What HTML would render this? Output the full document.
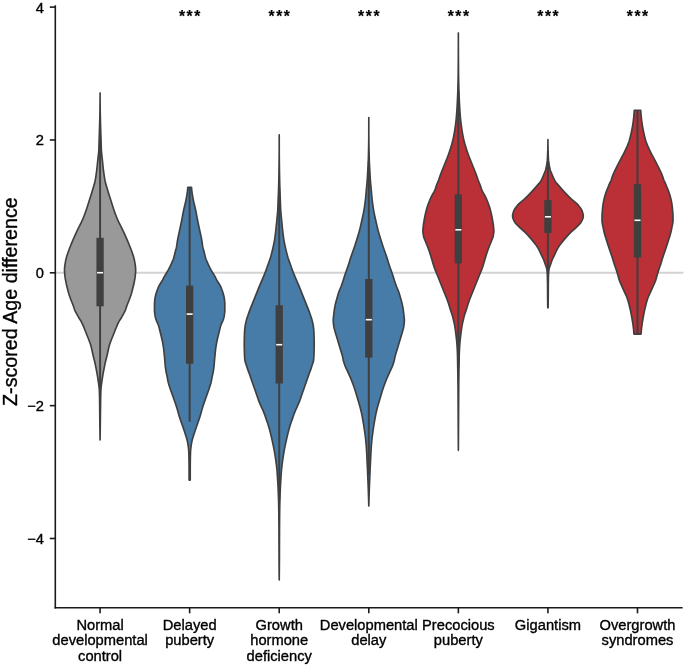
<!DOCTYPE html><html><head><meta charset="utf-8"><style>html,body{margin:0;padding:0;background:#fff;}svg{display:block;}text{font-family:"Liberation Sans",Arial,sans-serif;fill:#000;stroke:#000;stroke-width:0.35px;}</style></head><body>
<svg width="685" height="666" viewBox="0 0 685 666">
<rect width="685" height="666" fill="#fff"/>
<line x1="55.30" y1="272.70" x2="683.40" y2="272.70" stroke="#d3d3d3" stroke-width="2.0"/>
<path d="M100.08,92.95 L100.08,93.95 L100.08,94.95 L100.08,95.95 L100.08,96.95 L100.07,97.95 L100.06,98.95 L100.06,99.95 L100.05,100.95 L100.04,101.95 L100.03,102.95 L100.02,103.95 L100.01,104.95 L100.00,105.95 L99.99,106.95 L99.98,107.95 L99.97,108.95 L99.96,109.95 L99.95,110.95 L99.93,111.95 L99.92,112.95 L99.90,113.95 L99.88,114.95 L99.85,115.95 L99.83,116.95 L99.81,117.95 L99.78,118.95 L99.76,119.95 L99.74,120.95 L99.71,121.95 L99.68,122.95 L99.66,123.95 L99.63,124.95 L99.60,125.95 L99.57,126.95 L99.54,127.95 L99.51,128.95 L99.47,129.95 L99.44,130.95 L99.41,131.95 L99.38,132.95 L99.35,133.95 L99.32,134.95 L99.28,135.95 L99.25,136.95 L99.22,137.95 L99.18,138.95 L99.15,139.95 L99.11,140.95 L99.08,141.95 L99.05,142.95 L99.01,143.95 L98.98,144.95 L98.95,145.95 L98.92,146.95 L98.89,147.95 L98.86,148.95 L98.81,149.95 L98.76,150.95 L98.68,151.95 L98.59,152.95 L98.49,153.95 L98.38,154.95 L98.27,155.95 L98.15,156.95 L98.04,157.95 L97.92,158.95 L97.82,159.95 L97.71,160.95 L97.61,161.95 L97.52,162.95 L97.42,163.95 L97.32,164.95 L97.21,165.95 L97.11,166.95 L97.00,167.95 L96.89,168.95 L96.77,169.95 L96.64,170.95 L96.51,171.95 L96.38,172.95 L96.25,173.95 L96.10,174.95 L95.95,175.95 L95.80,176.95 L95.63,177.95 L95.46,178.95 L95.27,179.95 L95.07,180.95 L94.84,181.95 L94.59,182.95 L94.32,183.95 L94.05,184.95 L93.76,185.95 L93.46,186.95 L93.17,187.95 L92.87,188.95 L92.57,189.95 L92.28,190.95 L91.98,191.95 L91.67,192.95 L91.35,193.95 L91.03,194.95 L90.71,195.95 L90.39,196.95 L90.07,197.95 L89.75,198.95 L89.43,199.95 L89.11,200.95 L88.80,201.95 L88.49,202.95 L88.18,203.95 L87.86,204.95 L87.55,205.95 L87.23,206.95 L86.90,207.95 L86.57,208.95 L86.23,209.95 L85.88,210.95 L85.52,211.95 L85.17,212.95 L84.80,213.95 L84.43,214.95 L84.05,215.95 L83.66,216.95 L83.26,217.95 L82.85,218.95 L82.43,219.95 L81.99,220.95 L81.53,221.95 L81.04,222.95 L80.54,223.95 L80.04,224.95 L79.53,225.95 L79.01,226.95 L78.51,227.95 L78.01,228.95 L77.53,229.95 L77.07,230.95 L76.60,231.95 L76.14,232.95 L75.69,233.95 L75.23,234.95 L74.78,235.95 L74.34,236.95 L73.90,237.95 L73.46,238.95 L73.03,239.95 L72.60,240.95 L72.17,241.95 L71.74,242.95 L71.31,243.95 L70.89,244.95 L70.47,245.95 L70.06,246.95 L69.67,247.95 L69.29,248.95 L68.93,249.95 L68.57,250.95 L68.21,251.95 L67.85,252.95 L67.50,253.95 L67.16,254.95 L66.84,255.95 L66.54,256.95 L66.27,257.95 L66.02,258.95 L65.82,259.95 L65.63,260.95 L65.45,261.95 L65.27,262.95 L65.10,263.95 L64.94,264.95 L64.80,265.95 L64.68,266.95 L64.59,267.95 L64.53,268.95 L64.51,269.95 L64.52,270.95 L64.57,271.95 L64.63,272.95 L64.72,273.95 L64.81,274.95 L64.91,275.95 L65.02,276.95 L65.16,277.95 L65.33,278.95 L65.51,279.95 L65.70,280.95 L65.90,281.95 L66.10,282.95 L66.32,283.95 L66.56,284.95 L66.80,285.95 L67.05,286.95 L67.30,287.95 L67.55,288.95 L67.80,289.95 L68.06,290.95 L68.32,291.95 L68.60,292.95 L68.89,293.95 L69.21,294.95 L69.54,295.95 L69.89,296.95 L70.25,297.95 L70.62,298.95 L70.99,299.95 L71.38,300.95 L71.79,301.95 L72.20,302.95 L72.62,303.95 L73.02,304.95 L73.39,305.95 L73.72,306.95 L74.03,307.95 L74.34,308.95 L74.69,309.95 L75.11,310.95 L75.59,311.95 L76.11,312.95 L76.66,313.95 L77.22,314.95 L77.78,315.95 L78.36,316.95 L78.98,317.95 L79.61,318.95 L80.24,319.95 L80.83,320.95 L81.38,321.95 L81.88,322.95 L82.36,323.95 L82.81,324.95 L83.24,325.95 L83.67,326.95 L84.09,327.95 L84.51,328.95 L84.91,329.95 L85.31,330.95 L85.70,331.95 L86.09,332.95 L86.49,333.95 L86.89,334.95 L87.30,335.95 L87.71,336.95 L88.11,337.95 L88.51,338.95 L88.89,339.95 L89.27,340.95 L89.65,341.95 L90.02,342.95 L90.37,343.95 L90.70,344.95 L91.00,345.95 L91.25,346.95 L91.47,347.95 L91.68,348.95 L91.90,349.95 L92.12,350.95 L92.34,351.95 L92.57,352.95 L92.79,353.95 L93.02,354.95 L93.25,355.95 L93.49,356.95 L93.75,357.95 L94.01,358.95 L94.27,359.95 L94.52,360.95 L94.75,361.95 L94.97,362.95 L95.17,363.95 L95.37,364.95 L95.56,365.95 L95.76,366.95 L95.95,367.95 L96.15,368.95 L96.35,369.95 L96.54,370.95 L96.74,371.95 L96.92,372.95 L97.10,373.95 L97.27,374.95 L97.44,375.95 L97.60,376.95 L97.75,377.95 L97.90,378.95 L98.05,379.95 L98.20,380.95 L98.35,381.95 L98.50,382.95 L98.65,383.95 L98.78,384.95 L98.90,385.95 L99.02,386.95 L99.14,387.95 L99.24,388.95 L99.31,389.95 L99.36,390.95 L99.40,391.95 L99.44,392.95 L99.47,393.95 L99.50,394.95 L99.53,395.95 L99.55,396.95 L99.57,397.95 L99.59,398.95 L99.61,399.95 L99.62,400.95 L99.64,401.95 L99.65,402.95 L99.66,403.95 L99.67,404.95 L99.68,405.95 L99.69,406.95 L99.70,407.95 L99.71,408.95 L99.72,409.95 L99.73,410.95 L99.74,411.95 L99.74,412.95 L99.75,413.95 L99.76,414.95 L99.77,415.95 L99.78,416.95 L99.79,417.95 L99.80,418.95 L99.81,419.95 L99.82,420.95 L99.83,421.95 L99.85,422.95 L99.86,423.95 L99.87,424.95 L99.88,425.95 L99.90,426.95 L99.91,427.95 L99.92,428.95 L99.94,429.95 L99.95,430.95 L99.97,431.95 L99.98,432.95 L99.99,433.95 L100.01,434.95 L100.02,435.95 L100.04,436.95 L100.05,437.95 L100.07,438.95 L100.08,439.95 L100.08,439.95 L100.10,438.95 L100.12,437.95 L100.13,436.95 L100.15,435.95 L100.16,434.95 L100.18,433.95 L100.19,432.95 L100.20,431.95 L100.22,430.95 L100.23,429.95 L100.25,428.95 L100.26,427.95 L100.27,426.95 L100.29,425.95 L100.30,424.95 L100.31,423.95 L100.32,422.95 L100.34,421.95 L100.35,420.95 L100.36,419.95 L100.37,418.95 L100.38,417.95 L100.39,416.95 L100.40,415.95 L100.41,414.95 L100.42,413.95 L100.43,412.95 L100.43,411.95 L100.44,410.95 L100.45,409.95 L100.46,408.95 L100.47,407.95 L100.48,406.95 L100.49,405.95 L100.50,404.95 L100.51,403.95 L100.52,402.95 L100.53,401.95 L100.55,400.95 L100.56,399.95 L100.58,398.95 L100.60,397.95 L100.62,396.95 L100.64,395.95 L100.67,394.95 L100.70,393.95 L100.73,392.95 L100.77,391.95 L100.81,390.95 L100.86,389.95 L100.93,388.95 L101.03,387.95 L101.15,386.95 L101.27,385.95 L101.39,384.95 L101.52,383.95 L101.67,382.95 L101.82,381.95 L101.97,380.95 L102.12,379.95 L102.27,378.95 L102.42,377.95 L102.57,376.95 L102.73,375.95 L102.90,374.95 L103.07,373.95 L103.25,372.95 L103.43,371.95 L103.63,370.95 L103.82,369.95 L104.02,368.95 L104.22,367.95 L104.41,366.95 L104.61,365.95 L104.80,364.95 L105.00,363.95 L105.20,362.95 L105.42,361.95 L105.65,360.95 L105.90,359.95 L106.16,358.95 L106.42,357.95 L106.68,356.95 L106.92,355.95 L107.15,354.95 L107.38,353.95 L107.60,352.95 L107.83,351.95 L108.05,350.95 L108.27,349.95 L108.49,348.95 L108.70,347.95 L108.92,346.95 L109.17,345.95 L109.47,344.95 L109.80,343.95 L110.15,342.95 L110.52,341.95 L110.90,340.95 L111.28,339.95 L111.66,338.95 L112.06,337.95 L112.46,336.95 L112.87,335.95 L113.28,334.95 L113.68,333.95 L114.08,332.95 L114.47,331.95 L114.86,330.95 L115.26,329.95 L115.66,328.95 L116.08,327.95 L116.50,326.95 L116.93,325.95 L117.36,324.95 L117.81,323.95 L118.29,322.95 L118.79,321.95 L119.34,320.95 L119.93,319.95 L120.56,318.95 L121.19,317.95 L121.81,316.95 L122.39,315.95 L122.95,314.95 L123.51,313.95 L124.06,312.95 L124.58,311.95 L125.06,310.95 L125.48,309.95 L125.83,308.95 L126.14,307.95 L126.45,306.95 L126.78,305.95 L127.15,304.95 L127.55,303.95 L127.97,302.95 L128.38,301.95 L128.79,300.95 L129.18,299.95 L129.55,298.95 L129.92,297.95 L130.28,296.95 L130.63,295.95 L130.96,294.95 L131.28,293.95 L131.57,292.95 L131.85,291.95 L132.11,290.95 L132.37,289.95 L132.62,288.95 L132.87,287.95 L133.12,286.95 L133.37,285.95 L133.61,284.95 L133.85,283.95 L134.07,282.95 L134.27,281.95 L134.47,280.95 L134.66,279.95 L134.84,278.95 L135.01,277.95 L135.15,276.95 L135.26,275.95 L135.36,274.95 L135.45,273.95 L135.54,272.95 L135.60,271.95 L135.65,270.95 L135.66,269.95 L135.64,268.95 L135.58,267.95 L135.49,266.95 L135.37,265.95 L135.23,264.95 L135.07,263.95 L134.90,262.95 L134.72,261.95 L134.54,260.95 L134.35,259.95 L134.15,258.95 L133.90,257.95 L133.63,256.95 L133.33,255.95 L133.01,254.95 L132.67,253.95 L132.32,252.95 L131.96,251.95 L131.60,250.95 L131.24,249.95 L130.88,248.95 L130.50,247.95 L130.11,246.95 L129.70,245.95 L129.28,244.95 L128.86,243.95 L128.43,242.95 L128.00,241.95 L127.57,240.95 L127.14,239.95 L126.71,238.95 L126.27,237.95 L125.83,236.95 L125.39,235.95 L124.94,234.95 L124.48,233.95 L124.03,232.95 L123.57,231.95 L123.10,230.95 L122.64,229.95 L122.16,228.95 L121.66,227.95 L121.16,226.95 L120.64,225.95 L120.13,224.95 L119.63,223.95 L119.13,222.95 L118.64,221.95 L118.18,220.95 L117.74,219.95 L117.32,218.95 L116.91,217.95 L116.51,216.95 L116.12,215.95 L115.74,214.95 L115.37,213.95 L115.00,212.95 L114.65,211.95 L114.29,210.95 L113.94,209.95 L113.60,208.95 L113.27,207.95 L112.94,206.95 L112.62,205.95 L112.31,204.95 L111.99,203.95 L111.68,202.95 L111.37,201.95 L111.06,200.95 L110.74,199.95 L110.42,198.95 L110.10,197.95 L109.78,196.95 L109.46,195.95 L109.14,194.95 L108.82,193.95 L108.50,192.95 L108.19,191.95 L107.89,190.95 L107.60,189.95 L107.30,188.95 L107.00,187.95 L106.71,186.95 L106.41,185.95 L106.12,184.95 L105.85,183.95 L105.58,182.95 L105.33,181.95 L105.10,180.95 L104.90,179.95 L104.71,178.95 L104.54,177.95 L104.37,176.95 L104.22,175.95 L104.07,174.95 L103.92,173.95 L103.79,172.95 L103.66,171.95 L103.53,170.95 L103.40,169.95 L103.28,168.95 L103.17,167.95 L103.06,166.95 L102.96,165.95 L102.85,164.95 L102.75,163.95 L102.65,162.95 L102.56,161.95 L102.46,160.95 L102.35,159.95 L102.25,158.95 L102.13,157.95 L102.02,156.95 L101.90,155.95 L101.79,154.95 L101.68,153.95 L101.58,152.95 L101.49,151.95 L101.41,150.95 L101.36,149.95 L101.31,148.95 L101.28,147.95 L101.25,146.95 L101.22,145.95 L101.19,144.95 L101.16,143.95 L101.12,142.95 L101.09,141.95 L101.06,140.95 L101.02,139.95 L100.99,138.95 L100.95,137.95 L100.92,136.95 L100.89,135.95 L100.85,134.95 L100.82,133.95 L100.79,132.95 L100.76,131.95 L100.73,130.95 L100.70,129.95 L100.66,128.95 L100.63,127.95 L100.60,126.95 L100.57,125.95 L100.54,124.95 L100.51,123.95 L100.49,122.95 L100.46,121.95 L100.43,120.95 L100.41,119.95 L100.39,118.95 L100.36,117.95 L100.34,116.95 L100.32,115.95 L100.29,114.95 L100.27,113.95 L100.25,112.95 L100.24,111.95 L100.22,110.95 L100.21,109.95 L100.20,108.95 L100.19,107.95 L100.18,106.95 L100.17,105.95 L100.16,104.95 L100.15,103.95 L100.14,102.95 L100.13,101.95 L100.12,100.95 L100.11,99.95 L100.11,98.95 L100.10,97.95 L100.09,96.95 L100.09,95.95 L100.09,94.95 L100.09,93.95 L100.08,92.95 Z" fill="#999999" stroke="#3f3f3f" stroke-width="1.65" stroke-linejoin="round"/>
<line x1="100.08" y1="135.40" x2="100.08" y2="409.00" stroke="#3f3f3f" stroke-width="2.0"/>
<line x1="100.08" y1="237.80" x2="100.08" y2="306.30" stroke="#3f3f3f" stroke-width="7.3"/>
<line x1="97.08" y1="272.70" x2="103.08" y2="272.70" stroke="#fff" stroke-width="1.6"/>
<path d="M187.78,187.20 L187.72,188.20 L187.65,189.20 L187.56,190.20 L187.45,191.20 L187.33,192.20 L187.19,193.20 L187.03,194.20 L186.87,195.20 L186.69,196.20 L186.51,197.20 L186.32,198.20 L186.13,199.20 L185.94,200.20 L185.74,201.20 L185.52,202.20 L185.29,203.20 L185.05,204.20 L184.81,205.20 L184.56,206.20 L184.32,207.20 L184.08,208.20 L183.85,209.20 L183.64,210.20 L183.44,211.20 L183.24,212.20 L183.05,213.20 L182.87,214.20 L182.68,215.20 L182.50,216.20 L182.32,217.20 L182.13,218.20 L181.94,219.20 L181.74,220.20 L181.54,221.20 L181.33,222.20 L181.12,223.20 L180.91,224.20 L180.70,225.20 L180.49,226.20 L180.27,227.20 L180.06,228.20 L179.85,229.20 L179.64,230.20 L179.42,231.20 L179.20,232.20 L178.98,233.20 L178.76,234.20 L178.54,235.20 L178.32,236.20 L178.11,237.20 L177.91,238.20 L177.72,239.20 L177.55,240.20 L177.39,241.20 L177.25,242.20 L177.11,243.20 L176.97,244.20 L176.82,245.20 L176.64,246.20 L176.43,247.20 L176.19,248.20 L175.92,249.20 L175.65,250.20 L175.39,251.20 L175.13,252.20 L174.89,253.20 L174.66,254.20 L174.43,255.20 L174.18,256.20 L173.91,257.20 L173.62,258.20 L173.28,259.20 L172.90,260.20 L172.50,261.20 L172.07,262.20 L171.64,263.20 L171.19,264.20 L170.73,265.20 L170.25,266.20 L169.75,267.20 L169.24,268.20 L168.71,269.20 L168.17,270.20 L167.59,271.20 L166.99,272.20 L166.36,273.20 L165.74,274.20 L165.14,275.20 L164.57,276.20 L164.04,277.20 L163.53,278.20 L163.01,279.20 L162.47,280.20 L161.87,281.20 L161.24,282.20 L160.59,283.20 L159.97,284.20 L159.39,285.20 L158.88,286.20 L158.42,287.20 L157.98,288.20 L157.57,289.20 L157.19,290.20 L156.84,291.20 L156.52,292.20 L156.22,293.20 L155.92,294.20 L155.65,295.20 L155.41,296.20 L155.21,297.20 L155.05,298.20 L154.91,299.20 L154.77,300.20 L154.65,301.20 L154.56,302.20 L154.50,303.20 L154.48,304.20 L154.48,305.20 L154.48,306.20 L154.48,307.20 L154.48,308.20 L154.48,309.20 L154.48,310.20 L154.51,311.20 L154.59,312.20 L154.69,313.20 L154.82,314.20 L154.96,315.20 L155.11,316.20 L155.32,317.20 L155.60,318.20 L155.92,319.20 L156.25,320.20 L156.63,321.20 L157.07,322.20 L157.53,323.20 L157.99,324.20 L158.40,325.20 L158.74,326.20 L159.03,327.20 L159.29,328.20 L159.52,329.20 L159.75,330.20 L159.99,331.20 L160.23,332.20 L160.49,333.20 L160.74,334.20 L161.00,335.20 L161.25,336.20 L161.50,337.20 L161.72,338.20 L161.94,339.20 L162.15,340.20 L162.36,341.20 L162.55,342.20 L162.74,343.20 L162.91,344.20 L163.08,345.20 L163.24,346.20 L163.40,347.20 L163.54,348.20 L163.68,349.20 L163.80,350.20 L163.92,351.20 L164.02,352.20 L164.11,353.20 L164.21,354.20 L164.30,355.20 L164.40,356.20 L164.50,357.20 L164.61,358.20 L164.71,359.20 L164.80,360.20 L164.88,361.20 L164.95,362.20 L165.03,363.20 L165.11,364.20 L165.20,365.20 L165.30,366.20 L165.41,367.20 L165.53,368.20 L165.67,369.20 L165.81,370.20 L165.98,371.20 L166.17,372.20 L166.38,373.20 L166.60,374.20 L166.82,375.20 L167.02,376.20 L167.21,377.20 L167.40,378.20 L167.59,379.20 L167.78,380.20 L168.00,381.20 L168.23,382.20 L168.49,383.20 L168.78,384.20 L169.08,385.20 L169.40,386.20 L169.72,387.20 L170.04,388.20 L170.38,389.20 L170.73,390.20 L171.08,391.20 L171.44,392.20 L171.80,393.20 L172.15,394.20 L172.50,395.20 L172.85,396.20 L173.20,397.20 L173.55,398.20 L173.90,399.20 L174.25,400.20 L174.61,401.20 L174.96,402.20 L175.32,403.20 L175.68,404.20 L176.02,405.20 L176.34,406.20 L176.65,407.20 L176.95,408.20 L177.25,409.20 L177.54,410.20 L177.82,411.20 L178.10,412.20 L178.37,413.20 L178.65,414.20 L178.94,415.20 L179.24,416.20 L179.56,417.20 L179.89,418.20 L180.22,419.20 L180.56,420.20 L180.91,421.20 L181.25,422.20 L181.60,423.20 L181.95,424.20 L182.30,425.20 L182.65,426.20 L183.00,427.20 L183.35,428.20 L183.69,429.20 L184.03,430.20 L184.37,431.20 L184.70,432.20 L185.02,433.20 L185.34,434.20 L185.67,435.20 L185.99,436.20 L186.31,437.20 L186.61,438.20 L186.88,439.20 L187.13,440.20 L187.34,441.20 L187.55,442.20 L187.74,443.20 L187.91,444.20 L188.07,445.20 L188.21,446.20 L188.33,447.20 L188.46,448.20 L188.57,449.20 L188.66,450.20 L188.74,451.20 L188.79,452.20 L188.83,453.20 L188.86,454.20 L188.89,455.20 L188.91,456.20 L188.93,457.20 L188.95,458.20 L188.97,459.20 L188.98,460.20 L189.00,461.20 L189.01,462.20 L189.03,463.20 L189.04,464.20 L189.05,465.20 L189.06,466.20 L189.07,467.20 L189.08,468.20 L189.08,469.20 L189.08,470.20 L189.08,471.20 L189.08,472.20 L189.08,473.20 L189.08,474.20 L189.08,475.20 L189.08,476.20 L189.08,477.20 L189.08,478.20 L189.08,479.20 L189.08,480.10 L190.23,480.10 L190.23,479.20 L190.23,478.20 L190.23,477.20 L190.23,476.20 L190.23,475.20 L190.23,474.20 L190.23,473.20 L190.23,472.20 L190.23,471.20 L190.23,470.20 L190.23,469.20 L190.23,468.20 L190.24,467.20 L190.25,466.20 L190.26,465.20 L190.27,464.20 L190.28,463.20 L190.30,462.20 L190.31,461.20 L190.33,460.20 L190.34,459.20 L190.36,458.20 L190.38,457.20 L190.40,456.20 L190.42,455.20 L190.45,454.20 L190.48,453.20 L190.52,452.20 L190.57,451.20 L190.65,450.20 L190.74,449.20 L190.85,448.20 L190.98,447.20 L191.10,446.20 L191.24,445.20 L191.40,444.20 L191.57,443.20 L191.76,442.20 L191.97,441.20 L192.18,440.20 L192.43,439.20 L192.70,438.20 L193.00,437.20 L193.32,436.20 L193.64,435.20 L193.97,434.20 L194.29,433.20 L194.61,432.20 L194.94,431.20 L195.28,430.20 L195.62,429.20 L195.96,428.20 L196.31,427.20 L196.66,426.20 L197.01,425.20 L197.36,424.20 L197.71,423.20 L198.06,422.20 L198.40,421.20 L198.75,420.20 L199.09,419.20 L199.42,418.20 L199.75,417.20 L200.07,416.20 L200.37,415.20 L200.66,414.20 L200.94,413.20 L201.21,412.20 L201.49,411.20 L201.77,410.20 L202.06,409.20 L202.36,408.20 L202.66,407.20 L202.97,406.20 L203.29,405.20 L203.63,404.20 L203.99,403.20 L204.35,402.20 L204.70,401.20 L205.06,400.20 L205.41,399.20 L205.76,398.20 L206.11,397.20 L206.46,396.20 L206.81,395.20 L207.16,394.20 L207.51,393.20 L207.87,392.20 L208.23,391.20 L208.58,390.20 L208.93,389.20 L209.27,388.20 L209.59,387.20 L209.91,386.20 L210.23,385.20 L210.53,384.20 L210.82,383.20 L211.08,382.20 L211.31,381.20 L211.53,380.20 L211.72,379.20 L211.91,378.20 L212.10,377.20 L212.29,376.20 L212.49,375.20 L212.71,374.20 L212.93,373.20 L213.14,372.20 L213.33,371.20 L213.50,370.20 L213.64,369.20 L213.78,368.20 L213.90,367.20 L214.01,366.20 L214.11,365.20 L214.20,364.20 L214.28,363.20 L214.36,362.20 L214.43,361.20 L214.51,360.20 L214.60,359.20 L214.70,358.20 L214.81,357.20 L214.91,356.20 L215.01,355.20 L215.10,354.20 L215.20,353.20 L215.29,352.20 L215.39,351.20 L215.51,350.20 L215.63,349.20 L215.77,348.20 L215.91,347.20 L216.07,346.20 L216.23,345.20 L216.40,344.20 L216.57,343.20 L216.76,342.20 L216.95,341.20 L217.16,340.20 L217.37,339.20 L217.59,338.20 L217.81,337.20 L218.06,336.20 L218.31,335.20 L218.57,334.20 L218.82,333.20 L219.08,332.20 L219.32,331.20 L219.56,330.20 L219.79,329.20 L220.02,328.20 L220.28,327.20 L220.57,326.20 L220.91,325.20 L221.32,324.20 L221.78,323.20 L222.24,322.20 L222.68,321.20 L223.06,320.20 L223.39,319.20 L223.71,318.20 L223.99,317.20 L224.20,316.20 L224.35,315.20 L224.49,314.20 L224.62,313.20 L224.72,312.20 L224.80,311.20 L224.83,310.20 L224.83,309.20 L224.83,308.20 L224.83,307.20 L224.83,306.20 L224.83,305.20 L224.83,304.20 L224.81,303.20 L224.75,302.20 L224.66,301.20 L224.54,300.20 L224.40,299.20 L224.26,298.20 L224.10,297.20 L223.90,296.20 L223.66,295.20 L223.39,294.20 L223.09,293.20 L222.79,292.20 L222.47,291.20 L222.12,290.20 L221.74,289.20 L221.33,288.20 L220.89,287.20 L220.43,286.20 L219.92,285.20 L219.34,284.20 L218.72,283.20 L218.07,282.20 L217.44,281.20 L216.84,280.20 L216.30,279.20 L215.78,278.20 L215.27,277.20 L214.74,276.20 L214.17,275.20 L213.57,274.20 L212.95,273.20 L212.32,272.20 L211.72,271.20 L211.14,270.20 L210.60,269.20 L210.07,268.20 L209.56,267.20 L209.06,266.20 L208.58,265.20 L208.12,264.20 L207.67,263.20 L207.24,262.20 L206.81,261.20 L206.41,260.20 L206.03,259.20 L205.69,258.20 L205.40,257.20 L205.13,256.20 L204.88,255.20 L204.65,254.20 L204.42,253.20 L204.18,252.20 L203.92,251.20 L203.66,250.20 L203.39,249.20 L203.12,248.20 L202.88,247.20 L202.67,246.20 L202.49,245.20 L202.34,244.20 L202.20,243.20 L202.06,242.20 L201.92,241.20 L201.76,240.20 L201.59,239.20 L201.40,238.20 L201.20,237.20 L200.99,236.20 L200.77,235.20 L200.55,234.20 L200.33,233.20 L200.11,232.20 L199.89,231.20 L199.67,230.20 L199.46,229.20 L199.25,228.20 L199.04,227.20 L198.82,226.20 L198.61,225.20 L198.40,224.20 L198.19,223.20 L197.98,222.20 L197.77,221.20 L197.57,220.20 L197.37,219.20 L197.18,218.20 L196.99,217.20 L196.81,216.20 L196.63,215.20 L196.44,214.20 L196.26,213.20 L196.07,212.20 L195.87,211.20 L195.67,210.20 L195.46,209.20 L195.23,208.20 L194.99,207.20 L194.75,206.20 L194.50,205.20 L194.26,204.20 L194.02,203.20 L193.79,202.20 L193.57,201.20 L193.37,200.20 L193.18,199.20 L192.99,198.20 L192.80,197.20 L192.62,196.20 L192.44,195.20 L192.28,194.20 L192.12,193.20 L191.98,192.20 L191.86,191.20 L191.75,190.20 L191.66,189.20 L191.59,188.20 L191.53,187.20 Z" fill="#477ca8" stroke="#3f3f3f" stroke-width="1.65" stroke-linejoin="round"/>
<line x1="189.65" y1="187.20" x2="189.65" y2="421.70" stroke="#3f3f3f" stroke-width="2.0"/>
<line x1="189.65" y1="285.60" x2="189.65" y2="363.80" stroke="#3f3f3f" stroke-width="7.3"/>
<line x1="186.65" y1="314.10" x2="192.65" y2="314.10" stroke="#fff" stroke-width="1.6"/>
<path d="M279.22,134.85 L279.22,135.85 L279.22,136.85 L279.22,137.85 L279.22,138.85 L279.22,139.85 L279.22,140.85 L279.22,141.85 L279.22,142.85 L279.21,143.85 L279.21,144.85 L279.21,145.85 L279.21,146.85 L279.21,147.85 L279.20,148.85 L279.20,149.85 L279.20,150.85 L279.19,151.85 L279.19,152.85 L279.18,153.85 L279.18,154.85 L279.17,155.85 L279.16,156.85 L279.15,157.85 L279.14,158.85 L279.13,159.85 L279.12,160.85 L279.11,161.85 L279.09,162.85 L279.08,163.85 L279.07,164.85 L279.05,165.85 L279.04,166.85 L279.03,167.85 L279.01,168.85 L279.00,169.85 L278.98,170.85 L278.97,171.85 L278.95,172.85 L278.94,173.85 L278.92,174.85 L278.90,175.85 L278.88,176.85 L278.86,177.85 L278.84,178.85 L278.82,179.85 L278.80,180.85 L278.77,181.85 L278.75,182.85 L278.72,183.85 L278.70,184.85 L278.67,185.85 L278.64,186.85 L278.61,187.85 L278.58,188.85 L278.55,189.85 L278.52,190.85 L278.49,191.85 L278.45,192.85 L278.41,193.85 L278.37,194.85 L278.33,195.85 L278.28,196.85 L278.24,197.85 L278.20,198.85 L278.16,199.85 L278.12,200.85 L278.08,201.85 L278.04,202.85 L278.01,203.85 L277.97,204.85 L277.94,205.85 L277.90,206.85 L277.86,207.85 L277.81,208.85 L277.76,209.85 L277.70,210.85 L277.63,211.85 L277.55,212.85 L277.46,213.85 L277.36,214.85 L277.27,215.85 L277.16,216.85 L277.06,217.85 L276.96,218.85 L276.86,219.85 L276.77,220.85 L276.68,221.85 L276.58,222.85 L276.48,223.85 L276.39,224.85 L276.29,225.85 L276.19,226.85 L276.08,227.85 L275.98,228.85 L275.87,229.85 L275.75,230.85 L275.64,231.85 L275.52,232.85 L275.40,233.85 L275.28,234.85 L275.15,235.85 L275.02,236.85 L274.88,237.85 L274.73,238.85 L274.57,239.85 L274.41,240.85 L274.22,241.85 L274.02,242.85 L273.81,243.85 L273.60,244.85 L273.38,245.85 L273.16,246.85 L272.94,247.85 L272.71,248.85 L272.47,249.85 L272.23,250.85 L271.99,251.85 L271.74,252.85 L271.49,253.85 L271.23,254.85 L270.96,255.85 L270.69,256.85 L270.40,257.85 L270.08,258.85 L269.74,259.85 L269.39,260.85 L269.03,261.85 L268.66,262.85 L268.30,263.85 L267.95,264.85 L267.61,265.85 L267.27,266.85 L266.92,267.85 L266.57,268.85 L266.21,269.85 L265.83,270.85 L265.44,271.85 L265.04,272.85 L264.63,273.85 L264.22,274.85 L263.81,275.85 L263.40,276.85 L262.97,277.85 L262.54,278.85 L262.11,279.85 L261.68,280.85 L261.25,281.85 L260.81,282.85 L260.37,283.85 L259.94,284.85 L259.51,285.85 L259.10,286.85 L258.70,287.85 L258.30,288.85 L257.90,289.85 L257.51,290.85 L257.11,291.85 L256.71,292.85 L256.31,293.85 L255.91,294.85 L255.51,295.85 L255.11,296.85 L254.71,297.85 L254.31,298.85 L253.91,299.85 L253.51,300.85 L253.11,301.85 L252.71,302.85 L252.31,303.85 L251.91,304.85 L251.50,305.85 L251.09,306.85 L250.69,307.85 L250.29,308.85 L249.91,309.85 L249.54,310.85 L249.18,311.85 L248.82,312.85 L248.48,313.85 L248.14,314.85 L247.80,315.85 L247.46,316.85 L247.11,317.85 L246.79,318.85 L246.49,319.85 L246.23,320.85 L245.98,321.85 L245.74,322.85 L245.52,323.85 L245.33,324.85 L245.17,325.85 L245.04,326.85 L244.91,327.85 L244.80,328.85 L244.70,329.85 L244.62,330.85 L244.56,331.85 L244.51,332.85 L244.47,333.85 L244.43,334.85 L244.40,335.85 L244.38,336.85 L244.35,337.85 L244.33,338.85 L244.31,339.85 L244.29,340.85 L244.27,341.85 L244.26,342.85 L244.25,343.85 L244.25,344.85 L244.26,345.85 L244.28,346.85 L244.30,347.85 L244.32,348.85 L244.35,349.85 L244.37,350.85 L244.40,351.85 L244.43,352.85 L244.46,353.85 L244.50,354.85 L244.54,355.85 L244.59,356.85 L244.66,357.85 L244.73,358.85 L244.83,359.85 L244.98,360.85 L245.21,361.85 L245.50,362.85 L245.83,363.85 L246.17,364.85 L246.50,365.85 L246.82,366.85 L247.16,367.85 L247.52,368.85 L247.88,369.85 L248.24,370.85 L248.60,371.85 L248.95,372.85 L249.30,373.85 L249.65,374.85 L250.00,375.85 L250.35,376.85 L250.70,377.85 L251.05,378.85 L251.40,379.85 L251.75,380.85 L252.10,381.85 L252.45,382.85 L252.80,383.85 L253.15,384.85 L253.50,385.85 L253.85,386.85 L254.20,387.85 L254.55,388.85 L254.90,389.85 L255.25,390.85 L255.60,391.85 L255.95,392.85 L256.30,393.85 L256.65,394.85 L257.00,395.85 L257.34,396.85 L257.68,397.85 L258.03,398.85 L258.39,399.85 L258.78,400.85 L259.18,401.85 L259.60,402.85 L260.02,403.85 L260.45,404.85 L260.89,405.85 L261.33,406.85 L261.79,407.85 L262.26,408.85 L262.72,409.85 L263.17,410.85 L263.59,411.85 L263.97,412.85 L264.34,413.85 L264.68,414.85 L265.02,415.85 L265.36,416.85 L265.70,417.85 L266.05,418.85 L266.41,419.85 L266.77,420.85 L267.12,421.85 L267.47,422.85 L267.80,423.85 L268.12,424.85 L268.44,425.85 L268.74,426.85 L269.04,427.85 L269.33,428.85 L269.61,429.85 L269.88,430.85 L270.14,431.85 L270.39,432.85 L270.64,433.85 L270.88,434.85 L271.11,435.85 L271.35,436.85 L271.58,437.85 L271.80,438.85 L272.02,439.85 L272.24,440.85 L272.46,441.85 L272.68,442.85 L272.90,443.85 L273.11,444.85 L273.33,445.85 L273.54,446.85 L273.74,447.85 L273.94,448.85 L274.12,449.85 L274.30,450.85 L274.48,451.85 L274.65,452.85 L274.82,453.85 L274.98,454.85 L275.14,455.85 L275.29,456.85 L275.44,457.85 L275.59,458.85 L275.73,459.85 L275.87,460.85 L276.00,461.85 L276.14,462.85 L276.27,463.85 L276.39,464.85 L276.51,465.85 L276.63,466.85 L276.74,467.85 L276.84,468.85 L276.94,469.85 L277.02,470.85 L277.10,471.85 L277.18,472.85 L277.25,473.85 L277.32,474.85 L277.39,475.85 L277.45,476.85 L277.52,477.85 L277.58,478.85 L277.64,479.85 L277.70,480.85 L277.76,481.85 L277.83,482.85 L277.89,483.85 L277.94,484.85 L278.00,485.85 L278.05,486.85 L278.09,487.85 L278.14,488.85 L278.18,489.85 L278.22,490.85 L278.26,491.85 L278.30,492.85 L278.34,493.85 L278.38,494.85 L278.42,495.85 L278.46,496.85 L278.49,497.85 L278.52,498.85 L278.55,499.85 L278.58,500.85 L278.61,501.85 L278.64,502.85 L278.66,503.85 L278.68,504.85 L278.70,505.85 L278.71,506.85 L278.73,507.85 L278.74,508.85 L278.76,509.85 L278.77,510.85 L278.79,511.85 L278.80,512.85 L278.81,513.85 L278.82,514.85 L278.84,515.85 L278.85,516.85 L278.86,517.85 L278.87,518.85 L278.88,519.85 L278.89,520.85 L278.89,521.85 L278.90,522.85 L278.91,523.85 L278.92,524.85 L278.93,525.85 L278.93,526.85 L278.94,527.85 L278.94,528.85 L278.95,529.85 L278.95,530.85 L278.96,531.85 L278.96,532.85 L278.97,533.85 L278.97,534.85 L278.97,535.85 L278.98,536.85 L278.98,537.85 L278.98,538.85 L278.99,539.85 L278.99,540.85 L278.99,541.85 L279.00,542.85 L279.00,543.85 L279.00,544.85 L279.00,545.85 L279.01,546.85 L279.01,547.85 L279.01,548.85 L279.01,549.85 L279.02,550.85 L279.02,551.85 L279.02,552.85 L279.02,553.85 L279.03,554.85 L279.03,555.85 L279.04,556.85 L279.04,557.85 L279.04,558.85 L279.05,559.85 L279.05,560.85 L279.06,561.85 L279.07,562.85 L279.07,563.85 L279.08,564.85 L279.09,565.85 L279.10,566.85 L279.10,567.85 L279.11,568.85 L279.12,569.85 L279.13,570.85 L279.14,571.85 L279.15,572.85 L279.16,573.85 L279.17,574.85 L279.18,575.85 L279.19,576.85 L279.20,577.85 L279.21,578.85 L279.22,579.85 L279.22,579.95 L279.22,579.95 L279.23,579.85 L279.24,578.85 L279.25,577.85 L279.26,576.85 L279.27,575.85 L279.28,574.85 L279.29,573.85 L279.30,572.85 L279.31,571.85 L279.32,570.85 L279.33,569.85 L279.34,568.85 L279.35,567.85 L279.35,566.85 L279.36,565.85 L279.37,564.85 L279.38,563.85 L279.38,562.85 L279.39,561.85 L279.40,560.85 L279.40,559.85 L279.41,558.85 L279.41,557.85 L279.41,556.85 L279.42,555.85 L279.42,554.85 L279.43,553.85 L279.43,552.85 L279.43,551.85 L279.43,550.85 L279.44,549.85 L279.44,548.85 L279.44,547.85 L279.44,546.85 L279.45,545.85 L279.45,544.85 L279.45,543.85 L279.45,542.85 L279.46,541.85 L279.46,540.85 L279.46,539.85 L279.47,538.85 L279.47,537.85 L279.47,536.85 L279.48,535.85 L279.48,534.85 L279.48,533.85 L279.49,532.85 L279.49,531.85 L279.50,530.85 L279.50,529.85 L279.51,528.85 L279.51,527.85 L279.52,526.85 L279.52,525.85 L279.53,524.85 L279.54,523.85 L279.55,522.85 L279.56,521.85 L279.56,520.85 L279.57,519.85 L279.58,518.85 L279.59,517.85 L279.60,516.85 L279.61,515.85 L279.63,514.85 L279.64,513.85 L279.65,512.85 L279.66,511.85 L279.68,510.85 L279.69,509.85 L279.71,508.85 L279.72,507.85 L279.74,506.85 L279.75,505.85 L279.77,504.85 L279.79,503.85 L279.81,502.85 L279.84,501.85 L279.87,500.85 L279.90,499.85 L279.93,498.85 L279.96,497.85 L279.99,496.85 L280.03,495.85 L280.07,494.85 L280.11,493.85 L280.15,492.85 L280.19,491.85 L280.23,490.85 L280.27,489.85 L280.31,488.85 L280.36,487.85 L280.40,486.85 L280.45,485.85 L280.51,484.85 L280.56,483.85 L280.62,482.85 L280.69,481.85 L280.75,480.85 L280.81,479.85 L280.87,478.85 L280.93,477.85 L281.00,476.85 L281.06,475.85 L281.13,474.85 L281.20,473.85 L281.27,472.85 L281.35,471.85 L281.43,470.85 L281.51,469.85 L281.61,468.85 L281.71,467.85 L281.82,466.85 L281.94,465.85 L282.06,464.85 L282.18,463.85 L282.31,462.85 L282.45,461.85 L282.58,460.85 L282.72,459.85 L282.86,458.85 L283.01,457.85 L283.16,456.85 L283.31,455.85 L283.47,454.85 L283.63,453.85 L283.80,452.85 L283.97,451.85 L284.15,450.85 L284.33,449.85 L284.51,448.85 L284.71,447.85 L284.91,446.85 L285.12,445.85 L285.34,444.85 L285.55,443.85 L285.77,442.85 L285.99,441.85 L286.21,440.85 L286.43,439.85 L286.65,438.85 L286.87,437.85 L287.10,436.85 L287.34,435.85 L287.57,434.85 L287.81,433.85 L288.06,432.85 L288.31,431.85 L288.57,430.85 L288.84,429.85 L289.12,428.85 L289.41,427.85 L289.71,426.85 L290.01,425.85 L290.33,424.85 L290.65,423.85 L290.98,422.85 L291.33,421.85 L291.68,420.85 L292.04,419.85 L292.40,418.85 L292.75,417.85 L293.09,416.85 L293.43,415.85 L293.77,414.85 L294.11,413.85 L294.48,412.85 L294.86,411.85 L295.28,410.85 L295.73,409.85 L296.19,408.85 L296.66,407.85 L297.12,406.85 L297.56,405.85 L298.00,404.85 L298.43,403.85 L298.85,402.85 L299.27,401.85 L299.67,400.85 L300.06,399.85 L300.42,398.85 L300.77,397.85 L301.11,396.85 L301.45,395.85 L301.80,394.85 L302.15,393.85 L302.50,392.85 L302.85,391.85 L303.20,390.85 L303.55,389.85 L303.90,388.85 L304.25,387.85 L304.60,386.85 L304.95,385.85 L305.30,384.85 L305.65,383.85 L306.00,382.85 L306.35,381.85 L306.70,380.85 L307.05,379.85 L307.40,378.85 L307.75,377.85 L308.10,376.85 L308.45,375.85 L308.80,374.85 L309.15,373.85 L309.50,372.85 L309.85,371.85 L310.21,370.85 L310.57,369.85 L310.93,368.85 L311.29,367.85 L311.63,366.85 L311.95,365.85 L312.28,364.85 L312.62,363.85 L312.95,362.85 L313.24,361.85 L313.47,360.85 L313.62,359.85 L313.72,358.85 L313.79,357.85 L313.86,356.85 L313.91,355.85 L313.95,354.85 L313.99,353.85 L314.02,352.85 L314.05,351.85 L314.08,350.85 L314.10,349.85 L314.13,348.85 L314.15,347.85 L314.17,346.85 L314.19,345.85 L314.20,344.85 L314.20,343.85 L314.19,342.85 L314.18,341.85 L314.16,340.85 L314.14,339.85 L314.12,338.85 L314.10,337.85 L314.07,336.85 L314.05,335.85 L314.02,334.85 L313.98,333.85 L313.94,332.85 L313.89,331.85 L313.83,330.85 L313.75,329.85 L313.65,328.85 L313.54,327.85 L313.41,326.85 L313.28,325.85 L313.12,324.85 L312.93,323.85 L312.71,322.85 L312.47,321.85 L312.22,320.85 L311.96,319.85 L311.66,318.85 L311.34,317.85 L310.99,316.85 L310.65,315.85 L310.31,314.85 L309.97,313.85 L309.63,312.85 L309.27,311.85 L308.91,310.85 L308.54,309.85 L308.16,308.85 L307.76,307.85 L307.36,306.85 L306.95,305.85 L306.54,304.85 L306.14,303.85 L305.74,302.85 L305.34,301.85 L304.94,300.85 L304.54,299.85 L304.14,298.85 L303.74,297.85 L303.34,296.85 L302.94,295.85 L302.54,294.85 L302.14,293.85 L301.74,292.85 L301.34,291.85 L300.94,290.85 L300.55,289.85 L300.15,288.85 L299.75,287.85 L299.35,286.85 L298.94,285.85 L298.51,284.85 L298.08,283.85 L297.64,282.85 L297.20,281.85 L296.77,280.85 L296.34,279.85 L295.91,278.85 L295.48,277.85 L295.05,276.85 L294.64,275.85 L294.23,274.85 L293.82,273.85 L293.41,272.85 L293.01,271.85 L292.62,270.85 L292.24,269.85 L291.88,268.85 L291.53,267.85 L291.18,266.85 L290.84,265.85 L290.50,264.85 L290.15,263.85 L289.79,262.85 L289.42,261.85 L289.06,260.85 L288.71,259.85 L288.37,258.85 L288.05,257.85 L287.76,256.85 L287.49,255.85 L287.22,254.85 L286.96,253.85 L286.71,252.85 L286.46,251.85 L286.22,250.85 L285.98,249.85 L285.74,248.85 L285.51,247.85 L285.29,246.85 L285.07,245.85 L284.85,244.85 L284.64,243.85 L284.43,242.85 L284.23,241.85 L284.04,240.85 L283.88,239.85 L283.72,238.85 L283.57,237.85 L283.43,236.85 L283.30,235.85 L283.17,234.85 L283.05,233.85 L282.93,232.85 L282.81,231.85 L282.70,230.85 L282.58,229.85 L282.47,228.85 L282.37,227.85 L282.26,226.85 L282.16,225.85 L282.06,224.85 L281.97,223.85 L281.87,222.85 L281.77,221.85 L281.68,220.85 L281.59,219.85 L281.49,218.85 L281.39,217.85 L281.29,216.85 L281.18,215.85 L281.09,214.85 L280.99,213.85 L280.90,212.85 L280.82,211.85 L280.75,210.85 L280.69,209.85 L280.64,208.85 L280.59,207.85 L280.55,206.85 L280.51,205.85 L280.48,204.85 L280.44,203.85 L280.41,202.85 L280.37,201.85 L280.33,200.85 L280.29,199.85 L280.25,198.85 L280.21,197.85 L280.17,196.85 L280.12,195.85 L280.08,194.85 L280.04,193.85 L280.00,192.85 L279.96,191.85 L279.93,190.85 L279.90,189.85 L279.87,188.85 L279.84,187.85 L279.81,186.85 L279.78,185.85 L279.75,184.85 L279.73,183.85 L279.70,182.85 L279.68,181.85 L279.65,180.85 L279.63,179.85 L279.61,178.85 L279.59,177.85 L279.57,176.85 L279.55,175.85 L279.53,174.85 L279.51,173.85 L279.50,172.85 L279.48,171.85 L279.47,170.85 L279.45,169.85 L279.44,168.85 L279.42,167.85 L279.41,166.85 L279.40,165.85 L279.38,164.85 L279.37,163.85 L279.36,162.85 L279.34,161.85 L279.33,160.85 L279.32,159.85 L279.31,158.85 L279.30,157.85 L279.29,156.85 L279.28,155.85 L279.27,154.85 L279.27,153.85 L279.26,152.85 L279.26,151.85 L279.25,150.85 L279.25,149.85 L279.25,148.85 L279.24,147.85 L279.24,146.85 L279.24,145.85 L279.24,144.85 L279.24,143.85 L279.23,142.85 L279.23,141.85 L279.23,140.85 L279.23,139.85 L279.23,138.85 L279.23,137.85 L279.23,136.85 L279.23,135.85 L279.22,134.85 Z" fill="#477ca8" stroke="#3f3f3f" stroke-width="1.65" stroke-linejoin="round"/>
<line x1="279.22" y1="188.00" x2="279.22" y2="500.80" stroke="#3f3f3f" stroke-width="2.0"/>
<line x1="279.22" y1="305.30" x2="279.22" y2="383.50" stroke="#3f3f3f" stroke-width="7.3"/>
<line x1="276.22" y1="344.70" x2="282.22" y2="344.70" stroke="#fff" stroke-width="1.6"/>
<path d="M368.80,117.45 L368.79,118.45 L368.79,119.45 L368.79,120.45 L368.79,121.45 L368.79,122.45 L368.79,123.45 L368.79,124.45 L368.79,125.45 L368.79,126.45 L368.78,127.45 L368.78,128.45 L368.78,129.45 L368.78,130.45 L368.78,131.45 L368.77,132.45 L368.77,133.45 L368.77,134.45 L368.76,135.45 L368.76,136.45 L368.75,137.45 L368.74,138.45 L368.74,139.45 L368.72,140.45 L368.71,141.45 L368.70,142.45 L368.69,143.45 L368.67,144.45 L368.65,145.45 L368.64,146.45 L368.62,147.45 L368.60,148.45 L368.58,149.45 L368.56,150.45 L368.54,151.45 L368.51,152.45 L368.49,153.45 L368.47,154.45 L368.44,155.45 L368.42,156.45 L368.39,157.45 L368.36,158.45 L368.34,159.45 L368.31,160.45 L368.27,161.45 L368.23,162.45 L368.18,163.45 L368.13,164.45 L368.08,165.45 L368.02,166.45 L367.96,167.45 L367.91,168.45 L367.85,169.45 L367.80,170.45 L367.74,171.45 L367.69,172.45 L367.63,173.45 L367.57,174.45 L367.52,175.45 L367.46,176.45 L367.39,177.45 L367.33,178.45 L367.26,179.45 L367.19,180.45 L367.11,181.45 L367.02,182.45 L366.94,183.45 L366.84,184.45 L366.75,185.45 L366.65,186.45 L366.56,187.45 L366.46,188.45 L366.37,189.45 L366.28,190.45 L366.19,191.45 L366.11,192.45 L366.02,193.45 L365.94,194.45 L365.86,195.45 L365.77,196.45 L365.68,197.45 L365.58,198.45 L365.48,199.45 L365.37,200.45 L365.25,201.45 L365.13,202.45 L365.00,203.45 L364.87,204.45 L364.73,205.45 L364.58,206.45 L364.43,207.45 L364.27,208.45 L364.11,209.45 L363.94,210.45 L363.76,211.45 L363.57,212.45 L363.37,213.45 L363.15,214.45 L362.94,215.45 L362.71,216.45 L362.49,217.45 L362.26,218.45 L362.04,219.45 L361.82,220.45 L361.60,221.45 L361.38,222.45 L361.17,223.45 L360.94,224.45 L360.72,225.45 L360.49,226.45 L360.25,227.45 L360.01,228.45 L359.76,229.45 L359.50,230.45 L359.23,231.45 L358.94,232.45 L358.65,233.45 L358.35,234.45 L358.04,235.45 L357.73,236.45 L357.42,237.45 L357.10,238.45 L356.79,239.45 L356.48,240.45 L356.17,241.45 L355.86,242.45 L355.55,243.45 L355.23,244.45 L354.90,245.45 L354.57,246.45 L354.23,247.45 L353.88,248.45 L353.52,249.45 L353.17,250.45 L352.81,251.45 L352.46,252.45 L352.11,253.45 L351.75,254.45 L351.39,255.45 L351.04,256.45 L350.70,257.45 L350.38,258.45 L350.07,259.45 L349.78,260.45 L349.49,261.45 L349.20,262.45 L348.89,263.45 L348.57,264.45 L348.23,265.45 L347.89,266.45 L347.53,267.45 L347.17,268.45 L346.81,269.45 L346.46,270.45 L346.10,271.45 L345.75,272.45 L345.39,273.45 L345.04,274.45 L344.70,275.45 L344.38,276.45 L344.08,277.45 L343.79,278.45 L343.49,279.45 L343.17,280.45 L342.84,281.45 L342.50,282.45 L342.15,283.45 L341.79,284.45 L341.42,285.45 L341.05,286.45 L340.65,287.45 L340.23,288.45 L339.81,289.45 L339.40,290.45 L339.02,291.45 L338.67,292.45 L338.34,293.45 L338.04,294.45 L337.74,295.45 L337.46,296.45 L337.18,297.45 L336.89,298.45 L336.61,299.45 L336.32,300.45 L336.05,301.45 L335.79,302.45 L335.54,303.45 L335.32,304.45 L335.12,305.45 L334.92,306.45 L334.73,307.45 L334.56,308.45 L334.40,309.45 L334.26,310.45 L334.13,311.45 L334.01,312.45 L333.89,313.45 L333.79,314.45 L333.68,315.45 L333.57,316.45 L333.44,317.45 L333.31,318.45 L333.23,319.45 L333.22,320.45 L333.26,321.45 L333.33,322.45 L333.42,323.45 L333.53,324.45 L333.65,325.45 L333.78,326.45 L333.97,327.45 L334.21,328.45 L334.49,329.45 L334.78,330.45 L335.07,331.45 L335.34,332.45 L335.63,333.45 L335.93,334.45 L336.24,335.45 L336.55,336.45 L336.85,337.45 L337.16,338.45 L337.45,339.45 L337.75,340.45 L338.06,341.45 L338.36,342.45 L338.66,343.45 L338.96,344.45 L339.25,345.45 L339.56,346.45 L339.86,347.45 L340.16,348.45 L340.46,349.45 L340.76,350.45 L341.07,351.45 L341.39,352.45 L341.71,353.45 L342.01,354.45 L342.28,355.45 L342.52,356.45 L342.72,357.45 L342.90,358.45 L343.10,359.45 L343.33,360.45 L343.60,361.45 L343.90,362.45 L344.22,363.45 L344.56,364.45 L344.92,365.45 L345.29,366.45 L345.71,367.45 L346.16,368.45 L346.62,369.45 L347.10,370.45 L347.57,371.45 L348.02,372.45 L348.48,373.45 L348.94,374.45 L349.39,375.45 L349.85,376.45 L350.28,377.45 L350.71,378.45 L351.13,379.45 L351.54,380.45 L351.94,381.45 L352.33,382.45 L352.71,383.45 L353.09,384.45 L353.45,385.45 L353.81,386.45 L354.16,387.45 L354.51,388.45 L354.84,389.45 L355.16,390.45 L355.47,391.45 L355.77,392.45 L356.07,393.45 L356.36,394.45 L356.66,395.45 L356.96,396.45 L357.26,397.45 L357.56,398.45 L357.86,399.45 L358.15,400.45 L358.45,401.45 L358.74,402.45 L359.04,403.45 L359.33,404.45 L359.62,405.45 L359.90,406.45 L360.18,407.45 L360.44,408.45 L360.69,409.45 L360.92,410.45 L361.15,411.45 L361.37,412.45 L361.58,413.45 L361.78,414.45 L361.98,415.45 L362.17,416.45 L362.36,417.45 L362.54,418.45 L362.72,419.45 L362.90,420.45 L363.07,421.45 L363.24,422.45 L363.41,423.45 L363.57,424.45 L363.73,425.45 L363.89,426.45 L364.04,427.45 L364.19,428.45 L364.34,429.45 L364.48,430.45 L364.63,431.45 L364.77,432.45 L364.91,433.45 L365.05,434.45 L365.19,435.45 L365.32,436.45 L365.44,437.45 L365.56,438.45 L365.66,439.45 L365.76,440.45 L365.86,441.45 L365.95,442.45 L366.04,443.45 L366.12,444.45 L366.20,445.45 L366.28,446.45 L366.35,447.45 L366.42,448.45 L366.49,449.45 L366.55,450.45 L366.60,451.45 L366.66,452.45 L366.71,453.45 L366.76,454.45 L366.81,455.45 L366.85,456.45 L366.90,457.45 L366.94,458.45 L366.99,459.45 L367.04,460.45 L367.09,461.45 L367.15,462.45 L367.20,463.45 L367.25,464.45 L367.30,465.45 L367.35,466.45 L367.40,467.45 L367.45,468.45 L367.50,469.45 L367.54,470.45 L367.58,471.45 L367.62,472.45 L367.66,473.45 L367.70,474.45 L367.74,475.45 L367.78,476.45 L367.82,477.45 L367.86,478.45 L367.90,479.45 L367.94,480.45 L367.98,481.45 L368.02,482.45 L368.06,483.45 L368.10,484.45 L368.15,485.45 L368.19,486.45 L368.23,487.45 L368.26,488.45 L368.30,489.45 L368.34,490.45 L368.37,491.45 L368.40,492.45 L368.43,493.45 L368.46,494.45 L368.49,495.45 L368.52,496.45 L368.55,497.45 L368.58,498.45 L368.60,499.45 L368.63,500.45 L368.66,501.45 L368.69,502.45 L368.72,503.45 L368.75,504.45 L368.78,505.45 L368.80,506.05 L368.80,506.05 L368.81,505.45 L368.84,504.45 L368.87,503.45 L368.90,502.45 L368.93,501.45 L368.96,500.45 L368.99,499.45 L369.01,498.45 L369.04,497.45 L369.07,496.45 L369.10,495.45 L369.13,494.45 L369.16,493.45 L369.19,492.45 L369.22,491.45 L369.25,490.45 L369.29,489.45 L369.33,488.45 L369.36,487.45 L369.40,486.45 L369.44,485.45 L369.49,484.45 L369.53,483.45 L369.57,482.45 L369.61,481.45 L369.65,480.45 L369.69,479.45 L369.73,478.45 L369.77,477.45 L369.81,476.45 L369.85,475.45 L369.89,474.45 L369.93,473.45 L369.97,472.45 L370.01,471.45 L370.05,470.45 L370.09,469.45 L370.14,468.45 L370.19,467.45 L370.24,466.45 L370.29,465.45 L370.34,464.45 L370.39,463.45 L370.44,462.45 L370.50,461.45 L370.55,460.45 L370.60,459.45 L370.65,458.45 L370.69,457.45 L370.74,456.45 L370.78,455.45 L370.83,454.45 L370.88,453.45 L370.93,452.45 L370.99,451.45 L371.04,450.45 L371.10,449.45 L371.17,448.45 L371.24,447.45 L371.31,446.45 L371.39,445.45 L371.47,444.45 L371.55,443.45 L371.64,442.45 L371.73,441.45 L371.83,440.45 L371.93,439.45 L372.03,438.45 L372.15,437.45 L372.27,436.45 L372.40,435.45 L372.54,434.45 L372.68,433.45 L372.82,432.45 L372.96,431.45 L373.11,430.45 L373.25,429.45 L373.40,428.45 L373.55,427.45 L373.70,426.45 L373.86,425.45 L374.02,424.45 L374.18,423.45 L374.35,422.45 L374.52,421.45 L374.69,420.45 L374.87,419.45 L375.05,418.45 L375.23,417.45 L375.42,416.45 L375.61,415.45 L375.81,414.45 L376.01,413.45 L376.22,412.45 L376.44,411.45 L376.67,410.45 L376.90,409.45 L377.15,408.45 L377.41,407.45 L377.69,406.45 L377.97,405.45 L378.26,404.45 L378.55,403.45 L378.85,402.45 L379.14,401.45 L379.44,400.45 L379.73,399.45 L380.03,398.45 L380.33,397.45 L380.63,396.45 L380.93,395.45 L381.23,394.45 L381.52,393.45 L381.82,392.45 L382.12,391.45 L382.43,390.45 L382.75,389.45 L383.08,388.45 L383.43,387.45 L383.78,386.45 L384.14,385.45 L384.50,384.45 L384.88,383.45 L385.26,382.45 L385.65,381.45 L386.05,380.45 L386.46,379.45 L386.88,378.45 L387.31,377.45 L387.74,376.45 L388.20,375.45 L388.65,374.45 L389.11,373.45 L389.57,372.45 L390.02,371.45 L390.49,370.45 L390.97,369.45 L391.43,368.45 L391.88,367.45 L392.30,366.45 L392.67,365.45 L393.03,364.45 L393.37,363.45 L393.69,362.45 L393.99,361.45 L394.26,360.45 L394.49,359.45 L394.69,358.45 L394.87,357.45 L395.07,356.45 L395.31,355.45 L395.58,354.45 L395.88,353.45 L396.20,352.45 L396.52,351.45 L396.83,350.45 L397.13,349.45 L397.44,348.45 L397.74,347.45 L398.04,346.45 L398.34,345.45 L398.63,344.45 L398.94,343.45 L399.24,342.45 L399.54,341.45 L399.84,340.45 L400.14,339.45 L400.44,338.45 L400.74,337.45 L401.04,336.45 L401.35,335.45 L401.66,334.45 L401.96,333.45 L402.25,332.45 L402.52,331.45 L402.81,330.45 L403.10,329.45 L403.38,328.45 L403.62,327.45 L403.81,326.45 L403.94,325.45 L404.06,324.45 L404.17,323.45 L404.26,322.45 L404.33,321.45 L404.37,320.45 L404.36,319.45 L404.28,318.45 L404.15,317.45 L404.02,316.45 L403.91,315.45 L403.80,314.45 L403.70,313.45 L403.58,312.45 L403.46,311.45 L403.33,310.45 L403.19,309.45 L403.03,308.45 L402.86,307.45 L402.67,306.45 L402.47,305.45 L402.27,304.45 L402.05,303.45 L401.80,302.45 L401.54,301.45 L401.27,300.45 L400.98,299.45 L400.70,298.45 L400.41,297.45 L400.13,296.45 L399.85,295.45 L399.55,294.45 L399.25,293.45 L398.92,292.45 L398.57,291.45 L398.19,290.45 L397.78,289.45 L397.36,288.45 L396.94,287.45 L396.54,286.45 L396.17,285.45 L395.80,284.45 L395.44,283.45 L395.09,282.45 L394.75,281.45 L394.42,280.45 L394.10,279.45 L393.80,278.45 L393.51,277.45 L393.21,276.45 L392.89,275.45 L392.55,274.45 L392.20,273.45 L391.84,272.45 L391.49,271.45 L391.13,270.45 L390.78,269.45 L390.42,268.45 L390.06,267.45 L389.70,266.45 L389.36,265.45 L389.02,264.45 L388.70,263.45 L388.39,262.45 L388.10,261.45 L387.81,260.45 L387.52,259.45 L387.21,258.45 L386.89,257.45 L386.55,256.45 L386.20,255.45 L385.84,254.45 L385.48,253.45 L385.13,252.45 L384.78,251.45 L384.42,250.45 L384.07,249.45 L383.71,248.45 L383.36,247.45 L383.02,246.45 L382.69,245.45 L382.36,244.45 L382.04,243.45 L381.73,242.45 L381.42,241.45 L381.11,240.45 L380.80,239.45 L380.49,238.45 L380.17,237.45 L379.86,236.45 L379.55,235.45 L379.24,234.45 L378.94,233.45 L378.65,232.45 L378.36,231.45 L378.09,230.45 L377.83,229.45 L377.58,228.45 L377.34,227.45 L377.10,226.45 L376.87,225.45 L376.65,224.45 L376.42,223.45 L376.21,222.45 L375.99,221.45 L375.77,220.45 L375.55,219.45 L375.33,218.45 L375.10,217.45 L374.88,216.45 L374.65,215.45 L374.44,214.45 L374.22,213.45 L374.02,212.45 L373.83,211.45 L373.65,210.45 L373.48,209.45 L373.32,208.45 L373.16,207.45 L373.01,206.45 L372.86,205.45 L372.72,204.45 L372.59,203.45 L372.46,202.45 L372.34,201.45 L372.22,200.45 L372.11,199.45 L372.01,198.45 L371.91,197.45 L371.82,196.45 L371.73,195.45 L371.65,194.45 L371.57,193.45 L371.48,192.45 L371.40,191.45 L371.31,190.45 L371.22,189.45 L371.13,188.45 L371.03,187.45 L370.94,186.45 L370.84,185.45 L370.75,184.45 L370.65,183.45 L370.57,182.45 L370.48,181.45 L370.40,180.45 L370.33,179.45 L370.26,178.45 L370.20,177.45 L370.13,176.45 L370.07,175.45 L370.02,174.45 L369.96,173.45 L369.90,172.45 L369.85,171.45 L369.79,170.45 L369.74,169.45 L369.68,168.45 L369.63,167.45 L369.57,166.45 L369.51,165.45 L369.46,164.45 L369.41,163.45 L369.36,162.45 L369.32,161.45 L369.28,160.45 L369.25,159.45 L369.23,158.45 L369.20,157.45 L369.17,156.45 L369.15,155.45 L369.12,154.45 L369.10,153.45 L369.08,152.45 L369.05,151.45 L369.03,150.45 L369.01,149.45 L368.99,148.45 L368.97,147.45 L368.95,146.45 L368.94,145.45 L368.92,144.45 L368.90,143.45 L368.89,142.45 L368.88,141.45 L368.87,140.45 L368.85,139.45 L368.85,138.45 L368.84,137.45 L368.83,136.45 L368.83,135.45 L368.82,134.45 L368.82,133.45 L368.82,132.45 L368.81,131.45 L368.81,130.45 L368.81,129.45 L368.81,128.45 L368.81,127.45 L368.80,126.45 L368.80,125.45 L368.80,124.45 L368.80,123.45 L368.80,122.45 L368.80,121.45 L368.80,120.45 L368.80,119.45 L368.80,118.45 L368.80,117.45 Z" fill="#477ca8" stroke="#3f3f3f" stroke-width="1.65" stroke-linejoin="round"/>
<line x1="368.80" y1="161.10" x2="368.80" y2="475.50" stroke="#3f3f3f" stroke-width="2.0"/>
<line x1="368.80" y1="279.00" x2="368.80" y2="357.60" stroke="#3f3f3f" stroke-width="7.3"/>
<line x1="365.80" y1="319.70" x2="371.80" y2="319.70" stroke="#fff" stroke-width="1.6"/>
<path d="M458.36,32.95 L458.36,33.95 L458.36,34.95 L458.36,35.95 L458.36,36.95 L458.36,37.95 L458.36,38.95 L458.36,39.95 L458.36,40.95 L458.36,41.95 L458.35,42.95 L458.35,43.95 L458.35,44.95 L458.35,45.95 L458.34,46.95 L458.34,47.95 L458.34,48.95 L458.34,49.95 L458.33,50.95 L458.33,51.95 L458.33,52.95 L458.32,53.95 L458.32,54.95 L458.32,55.95 L458.31,56.95 L458.31,57.95 L458.30,58.95 L458.29,59.95 L458.29,60.95 L458.28,61.95 L458.27,62.95 L458.27,63.95 L458.26,64.95 L458.25,65.95 L458.24,66.95 L458.24,67.95 L458.23,68.95 L458.22,69.95 L458.21,70.95 L458.20,71.95 L458.19,72.95 L458.18,73.95 L458.17,74.95 L458.15,75.95 L458.14,76.95 L458.12,77.95 L458.10,78.95 L458.09,79.95 L458.07,80.95 L458.04,81.95 L458.02,82.95 L458.00,83.95 L457.97,84.95 L457.95,85.95 L457.92,86.95 L457.90,87.95 L457.87,88.95 L457.84,89.95 L457.81,90.95 L457.78,91.95 L457.74,92.95 L457.71,93.95 L457.67,94.95 L457.62,95.95 L457.58,96.95 L457.53,97.95 L457.49,98.95 L457.44,99.95 L457.40,100.95 L457.35,101.95 L457.30,102.95 L457.24,103.95 L457.19,104.95 L457.14,105.95 L457.08,106.95 L457.02,107.95 L456.96,108.95 L456.89,109.95 L456.83,110.95 L456.76,111.95 L456.69,112.95 L456.61,113.95 L456.54,114.95 L456.46,115.95 L456.37,116.95 L456.28,117.95 L456.19,118.95 L456.09,119.95 L455.99,120.95 L455.88,121.95 L455.77,122.95 L455.64,123.95 L455.52,124.95 L455.38,125.95 L455.24,126.95 L455.10,127.95 L454.95,128.95 L454.80,129.95 L454.64,130.95 L454.48,131.95 L454.31,132.95 L454.13,133.95 L453.94,134.95 L453.75,135.95 L453.55,136.95 L453.34,137.95 L453.13,138.95 L452.90,139.95 L452.66,140.95 L452.41,141.95 L452.14,142.95 L451.86,143.95 L451.57,144.95 L451.27,145.95 L450.96,146.95 L450.64,147.95 L450.33,148.95 L450.01,149.95 L449.68,150.95 L449.34,151.95 L449.00,152.95 L448.64,153.95 L448.28,154.95 L447.91,155.95 L447.53,156.95 L447.13,157.95 L446.73,158.95 L446.32,159.95 L445.91,160.95 L445.51,161.95 L445.11,162.95 L444.71,163.95 L444.31,164.95 L443.91,165.95 L443.51,166.95 L443.11,167.95 L442.71,168.95 L442.30,169.95 L441.89,170.95 L441.49,171.95 L441.09,172.95 L440.71,173.95 L440.34,174.95 L440.00,175.95 L439.66,176.95 L439.32,177.95 L438.97,178.95 L438.61,179.95 L438.22,180.95 L437.81,181.95 L437.40,182.95 L436.98,183.95 L436.58,184.95 L436.21,185.95 L435.88,186.95 L435.58,187.95 L435.27,188.95 L434.91,189.95 L434.47,190.95 L433.95,191.95 L433.39,192.95 L432.81,193.95 L432.24,194.95 L431.71,195.95 L431.23,196.95 L430.75,197.95 L430.29,198.95 L429.84,199.95 L429.42,200.95 L429.01,201.95 L428.62,202.95 L428.24,203.95 L427.88,204.95 L427.54,205.95 L427.21,206.95 L426.90,207.95 L426.62,208.95 L426.35,209.95 L426.10,210.95 L425.86,211.95 L425.63,212.95 L425.40,213.95 L425.18,214.95 L424.97,215.95 L424.76,216.95 L424.56,217.95 L424.38,218.95 L424.20,219.95 L424.03,220.95 L423.86,221.95 L423.70,222.95 L423.55,223.95 L423.41,224.95 L423.30,225.95 L423.19,226.95 L423.08,227.95 L422.99,228.95 L422.92,229.95 L422.89,230.95 L422.92,231.95 L423.01,232.95 L423.14,233.95 L423.31,234.95 L423.48,235.95 L423.71,236.95 L424.03,237.95 L424.42,238.95 L424.84,239.95 L425.27,240.95 L425.67,241.95 L426.06,242.95 L426.47,243.95 L426.88,244.95 L427.29,245.95 L427.69,246.95 L428.07,247.95 L428.44,248.95 L428.80,249.95 L429.16,250.95 L429.51,251.95 L429.85,252.95 L430.17,253.95 L430.49,254.95 L430.80,255.95 L431.09,256.95 L431.39,257.95 L431.68,258.95 L431.98,259.95 L432.27,260.95 L432.56,261.95 L432.86,262.95 L433.15,263.95 L433.46,264.95 L433.77,265.95 L434.10,266.95 L434.45,267.95 L434.80,268.95 L435.17,269.95 L435.56,270.95 L435.97,271.95 L436.40,272.95 L436.83,273.95 L437.25,274.95 L437.67,275.95 L438.08,276.95 L438.48,277.95 L438.88,278.95 L439.27,279.95 L439.67,280.95 L440.07,281.95 L440.47,282.95 L440.87,283.95 L441.27,284.95 L441.67,285.95 L442.07,286.95 L442.47,287.95 L442.87,288.95 L443.27,289.95 L443.67,290.95 L444.07,291.95 L444.47,292.95 L444.87,293.95 L445.27,294.95 L445.69,295.95 L446.10,296.95 L446.50,297.95 L446.90,298.95 L447.27,299.95 L447.63,300.95 L447.97,301.95 L448.31,302.95 L448.64,303.95 L448.96,304.95 L449.27,305.95 L449.58,306.95 L449.87,307.95 L450.17,308.95 L450.47,309.95 L450.81,310.95 L451.16,311.95 L451.51,312.95 L451.86,313.95 L452.18,314.95 L452.46,315.95 L452.74,316.95 L453.00,317.95 L453.24,318.95 L453.48,319.95 L453.70,320.95 L453.92,321.95 L454.13,322.95 L454.34,323.95 L454.53,324.95 L454.71,325.95 L454.88,326.95 L455.04,327.95 L455.19,328.95 L455.34,329.95 L455.48,330.95 L455.61,331.95 L455.74,332.95 L455.87,333.95 L455.98,334.95 L456.10,335.95 L456.22,336.95 L456.33,337.95 L456.44,338.95 L456.55,339.95 L456.65,340.95 L456.74,341.95 L456.83,342.95 L456.91,343.95 L456.99,344.95 L457.05,345.95 L457.12,346.95 L457.18,347.95 L457.23,348.95 L457.29,349.95 L457.33,350.95 L457.38,351.95 L457.42,352.95 L457.46,353.95 L457.49,354.95 L457.52,355.95 L457.54,356.95 L457.56,357.95 L457.58,358.95 L457.60,359.95 L457.62,360.95 L457.64,361.95 L457.66,362.95 L457.67,363.95 L457.69,364.95 L457.71,365.95 L457.72,366.95 L457.74,367.95 L457.76,368.95 L457.78,369.95 L457.79,370.95 L457.81,371.95 L457.83,372.95 L457.84,373.95 L457.86,374.95 L457.88,375.95 L457.89,376.95 L457.91,377.95 L457.92,378.95 L457.93,379.95 L457.95,380.95 L457.96,381.95 L457.97,382.95 L457.98,383.95 L457.99,384.95 L458.00,385.95 L458.01,386.95 L458.01,387.95 L458.02,388.95 L458.03,389.95 L458.04,390.95 L458.04,391.95 L458.05,392.95 L458.06,393.95 L458.06,394.95 L458.07,395.95 L458.07,396.95 L458.08,397.95 L458.08,398.95 L458.09,399.95 L458.09,400.95 L458.10,401.95 L458.10,402.95 L458.11,403.95 L458.11,404.95 L458.12,405.95 L458.12,406.95 L458.13,407.95 L458.13,408.95 L458.14,409.95 L458.14,410.95 L458.15,411.95 L458.15,412.95 L458.16,413.95 L458.16,414.95 L458.17,415.95 L458.17,416.95 L458.18,417.95 L458.18,418.95 L458.19,419.95 L458.20,420.95 L458.20,421.95 L458.21,422.95 L458.21,423.95 L458.22,424.95 L458.22,425.95 L458.23,426.95 L458.24,427.95 L458.24,428.95 L458.25,429.95 L458.25,430.95 L458.26,431.95 L458.26,432.95 L458.27,433.95 L458.28,434.95 L458.28,435.95 L458.29,436.95 L458.29,437.95 L458.30,438.95 L458.30,439.95 L458.31,440.95 L458.32,441.95 L458.32,442.95 L458.33,443.95 L458.33,444.95 L458.34,445.95 L458.35,446.95 L458.35,447.95 L458.36,448.95 L458.36,449.95 L458.36,450.35 L458.36,450.35 L458.37,449.95 L458.37,448.95 L458.38,447.95 L458.38,446.95 L458.39,445.95 L458.40,444.95 L458.40,443.95 L458.41,442.95 L458.41,441.95 L458.42,440.95 L458.43,439.95 L458.43,438.95 L458.44,437.95 L458.44,436.95 L458.45,435.95 L458.45,434.95 L458.46,433.95 L458.47,432.95 L458.47,431.95 L458.48,430.95 L458.48,429.95 L458.49,428.95 L458.49,427.95 L458.50,426.95 L458.51,425.95 L458.51,424.95 L458.52,423.95 L458.52,422.95 L458.53,421.95 L458.53,420.95 L458.54,419.95 L458.55,418.95 L458.55,417.95 L458.56,416.95 L458.56,415.95 L458.57,414.95 L458.57,413.95 L458.58,412.95 L458.58,411.95 L458.59,410.95 L458.59,409.95 L458.60,408.95 L458.60,407.95 L458.61,406.95 L458.61,405.95 L458.62,404.95 L458.62,403.95 L458.63,402.95 L458.63,401.95 L458.64,400.95 L458.64,399.95 L458.65,398.95 L458.65,397.95 L458.66,396.95 L458.66,395.95 L458.67,394.95 L458.67,393.95 L458.68,392.95 L458.69,391.95 L458.69,390.95 L458.70,389.95 L458.71,388.95 L458.72,387.95 L458.72,386.95 L458.73,385.95 L458.74,384.95 L458.75,383.95 L458.76,382.95 L458.77,381.95 L458.78,380.95 L458.80,379.95 L458.81,378.95 L458.82,377.95 L458.84,376.95 L458.85,375.95 L458.87,374.95 L458.89,373.95 L458.90,372.95 L458.92,371.95 L458.94,370.95 L458.95,369.95 L458.97,368.95 L458.99,367.95 L459.01,366.95 L459.02,365.95 L459.04,364.95 L459.06,363.95 L459.07,362.95 L459.09,361.95 L459.11,360.95 L459.13,359.95 L459.15,358.95 L459.17,357.95 L459.19,356.95 L459.21,355.95 L459.24,354.95 L459.27,353.95 L459.31,352.95 L459.35,351.95 L459.40,350.95 L459.44,349.95 L459.50,348.95 L459.55,347.95 L459.61,346.95 L459.68,345.95 L459.74,344.95 L459.82,343.95 L459.90,342.95 L459.99,341.95 L460.08,340.95 L460.18,339.95 L460.29,338.95 L460.40,337.95 L460.51,336.95 L460.63,335.95 L460.75,334.95 L460.86,333.95 L460.99,332.95 L461.12,331.95 L461.25,330.95 L461.39,329.95 L461.54,328.95 L461.69,327.95 L461.85,326.95 L462.02,325.95 L462.20,324.95 L462.39,323.95 L462.60,322.95 L462.81,321.95 L463.03,320.95 L463.25,319.95 L463.49,318.95 L463.73,317.95 L463.99,316.95 L464.27,315.95 L464.55,314.95 L464.87,313.95 L465.22,312.95 L465.57,311.95 L465.92,310.95 L466.26,309.95 L466.56,308.95 L466.86,307.95 L467.15,306.95 L467.46,305.95 L467.77,304.95 L468.09,303.95 L468.42,302.95 L468.76,301.95 L469.10,300.95 L469.46,299.95 L469.83,298.95 L470.23,297.95 L470.63,296.95 L471.04,295.95 L471.46,294.95 L471.86,293.95 L472.26,292.95 L472.66,291.95 L473.06,290.95 L473.46,289.95 L473.86,288.95 L474.26,287.95 L474.66,286.95 L475.06,285.95 L475.46,284.95 L475.86,283.95 L476.26,282.95 L476.66,281.95 L477.06,280.95 L477.46,279.95 L477.85,278.95 L478.25,277.95 L478.65,276.95 L479.06,275.95 L479.48,274.95 L479.90,273.95 L480.33,272.95 L480.76,271.95 L481.17,270.95 L481.56,269.95 L481.93,268.95 L482.28,267.95 L482.63,266.95 L482.96,265.95 L483.27,264.95 L483.58,263.95 L483.87,262.95 L484.17,261.95 L484.46,260.95 L484.75,259.95 L485.05,258.95 L485.34,257.95 L485.64,256.95 L485.93,255.95 L486.24,254.95 L486.56,253.95 L486.88,252.95 L487.22,251.95 L487.57,250.95 L487.93,249.95 L488.29,248.95 L488.66,247.95 L489.04,246.95 L489.44,245.95 L489.85,244.95 L490.26,243.95 L490.67,242.95 L491.06,241.95 L491.46,240.95 L491.89,239.95 L492.31,238.95 L492.70,237.95 L493.02,236.95 L493.25,235.95 L493.42,234.95 L493.59,233.95 L493.72,232.95 L493.81,231.95 L493.84,230.95 L493.81,229.95 L493.74,228.95 L493.65,227.95 L493.54,226.95 L493.43,225.95 L493.32,224.95 L493.18,223.95 L493.03,222.95 L492.87,221.95 L492.70,220.95 L492.53,219.95 L492.35,218.95 L492.17,217.95 L491.97,216.95 L491.76,215.95 L491.55,214.95 L491.33,213.95 L491.10,212.95 L490.87,211.95 L490.63,210.95 L490.38,209.95 L490.11,208.95 L489.83,207.95 L489.52,206.95 L489.19,205.95 L488.85,204.95 L488.49,203.95 L488.11,202.95 L487.72,201.95 L487.31,200.95 L486.89,199.95 L486.44,198.95 L485.98,197.95 L485.50,196.95 L485.02,195.95 L484.49,194.95 L483.92,193.95 L483.34,192.95 L482.78,191.95 L482.26,190.95 L481.82,189.95 L481.46,188.95 L481.15,187.95 L480.85,186.95 L480.52,185.95 L480.15,184.95 L479.75,183.95 L479.33,182.95 L478.92,181.95 L478.51,180.95 L478.12,179.95 L477.76,178.95 L477.41,177.95 L477.07,176.95 L476.73,175.95 L476.39,174.95 L476.02,173.95 L475.64,172.95 L475.24,171.95 L474.84,170.95 L474.43,169.95 L474.02,168.95 L473.62,167.95 L473.22,166.95 L472.82,165.95 L472.42,164.95 L472.02,163.95 L471.62,162.95 L471.22,161.95 L470.82,160.95 L470.41,159.95 L470.00,158.95 L469.60,157.95 L469.20,156.95 L468.82,155.95 L468.45,154.95 L468.09,153.95 L467.73,152.95 L467.39,151.95 L467.05,150.95 L466.72,149.95 L466.40,148.95 L466.09,147.95 L465.77,146.95 L465.46,145.95 L465.16,144.95 L464.87,143.95 L464.59,142.95 L464.32,141.95 L464.07,140.95 L463.83,139.95 L463.60,138.95 L463.39,137.95 L463.18,136.95 L462.98,135.95 L462.79,134.95 L462.60,133.95 L462.42,132.95 L462.25,131.95 L462.09,130.95 L461.93,129.95 L461.78,128.95 L461.63,127.95 L461.49,126.95 L461.35,125.95 L461.21,124.95 L461.09,123.95 L460.96,122.95 L460.85,121.95 L460.74,120.95 L460.64,119.95 L460.54,118.95 L460.45,117.95 L460.36,116.95 L460.27,115.95 L460.19,114.95 L460.12,113.95 L460.04,112.95 L459.97,111.95 L459.90,110.95 L459.84,109.95 L459.77,108.95 L459.71,107.95 L459.65,106.95 L459.59,105.95 L459.54,104.95 L459.49,103.95 L459.43,102.95 L459.38,101.95 L459.33,100.95 L459.29,99.95 L459.24,98.95 L459.20,97.95 L459.15,96.95 L459.11,95.95 L459.06,94.95 L459.02,93.95 L458.99,92.95 L458.95,91.95 L458.92,90.95 L458.89,89.95 L458.86,88.95 L458.83,87.95 L458.81,86.95 L458.78,85.95 L458.76,84.95 L458.73,83.95 L458.71,82.95 L458.69,81.95 L458.66,80.95 L458.64,79.95 L458.63,78.95 L458.61,77.95 L458.59,76.95 L458.58,75.95 L458.56,74.95 L458.55,73.95 L458.54,72.95 L458.53,71.95 L458.52,70.95 L458.51,69.95 L458.50,68.95 L458.49,67.95 L458.49,66.95 L458.48,65.95 L458.47,64.95 L458.46,63.95 L458.46,62.95 L458.45,61.95 L458.44,60.95 L458.44,59.95 L458.43,58.95 L458.42,57.95 L458.42,56.95 L458.41,55.95 L458.41,54.95 L458.41,53.95 L458.40,52.95 L458.40,51.95 L458.40,50.95 L458.39,49.95 L458.39,48.95 L458.39,47.95 L458.39,46.95 L458.38,45.95 L458.38,44.95 L458.38,43.95 L458.38,42.95 L458.37,41.95 L458.37,40.95 L458.37,39.95 L458.37,38.95 L458.37,37.95 L458.37,36.95 L458.37,35.95 L458.37,34.95 L458.37,33.95 L458.36,32.95 Z" fill="#bb2f36" stroke="#3f3f3f" stroke-width="1.65" stroke-linejoin="round"/>
<line x1="458.36" y1="90.90" x2="458.36" y2="366.90" stroke="#3f3f3f" stroke-width="2.0"/>
<line x1="458.36" y1="194.40" x2="458.36" y2="263.40" stroke="#3f3f3f" stroke-width="7.3"/>
<line x1="455.36" y1="229.80" x2="461.36" y2="229.80" stroke="#fff" stroke-width="1.6"/>
<path d="M547.93,139.65 L547.93,140.65 L547.93,141.65 L547.92,142.65 L547.91,143.65 L547.90,144.65 L547.88,145.65 L547.87,146.65 L547.85,147.65 L547.83,148.65 L547.82,149.65 L547.80,150.65 L547.77,151.65 L547.74,152.65 L547.71,153.65 L547.67,154.65 L547.63,155.65 L547.58,156.65 L547.53,157.65 L547.46,158.65 L547.39,159.65 L547.30,160.65 L547.18,161.65 L547.04,162.65 L546.89,163.65 L546.72,164.65 L546.55,165.65 L546.35,166.65 L546.14,167.65 L545.91,168.65 L545.66,169.65 L545.37,170.65 L545.02,171.65 L544.64,172.65 L544.23,173.65 L543.81,174.65 L543.38,175.65 L542.95,176.65 L542.51,177.65 L542.03,178.65 L541.52,179.65 L540.97,180.65 L540.34,181.65 L539.63,182.65 L538.83,183.65 L537.99,184.65 L537.12,185.65 L536.26,186.65 L535.41,187.65 L534.54,188.65 L533.65,189.65 L532.75,190.65 L531.83,191.65 L530.89,192.65 L529.94,193.65 L528.98,194.65 L527.99,195.65 L526.99,196.65 L525.97,197.65 L524.93,198.65 L523.84,199.65 L522.65,200.65 L521.42,201.65 L520.21,202.65 L519.07,203.65 L518.07,204.65 L517.22,205.65 L516.41,206.65 L515.64,207.65 L514.95,208.65 L514.36,209.65 L513.89,210.65 L513.53,211.65 L513.20,212.65 L512.90,213.65 L512.68,214.65 L512.57,215.65 L512.60,216.65 L512.78,217.65 L513.09,218.65 L513.48,219.65 L513.91,220.65 L514.39,221.65 L515.07,222.65 L515.90,223.65 L516.84,224.65 L517.83,225.65 L518.82,226.65 L519.81,227.65 L520.89,228.65 L522.03,229.65 L523.19,230.65 L524.33,231.65 L525.41,232.65 L526.39,233.65 L527.34,234.65 L528.25,235.65 L529.14,236.65 L530.01,237.65 L530.86,238.65 L531.71,239.65 L532.56,240.65 L533.39,241.65 L534.21,242.65 L534.98,243.65 L535.72,244.65 L536.40,245.65 L537.05,246.65 L537.68,247.65 L538.28,248.65 L538.84,249.65 L539.38,250.65 L539.88,251.65 L540.33,252.65 L540.76,253.65 L541.20,254.65 L541.67,255.65 L542.17,256.65 L542.67,257.65 L543.16,258.65 L543.62,259.65 L544.01,260.65 L544.36,261.65 L544.70,262.65 L545.04,263.65 L545.40,264.65 L545.80,265.65 L546.15,266.65 L546.44,267.65 L546.71,268.65 L546.91,269.65 L547.04,270.65 L547.14,271.65 L547.23,272.65 L547.30,273.65 L547.36,274.65 L547.40,275.65 L547.43,276.65 L547.45,277.65 L547.47,278.65 L547.49,279.65 L547.51,280.65 L547.53,281.65 L547.54,282.65 L547.55,283.65 L547.56,284.65 L547.56,285.65 L547.57,286.65 L547.58,287.65 L547.58,288.65 L547.58,289.65 L547.59,290.65 L547.59,291.65 L547.60,292.65 L547.60,293.65 L547.61,294.65 L547.61,295.65 L547.62,296.65 L547.63,297.65 L547.64,298.65 L547.65,299.65 L547.66,300.65 L547.67,301.65 L547.69,302.65 L547.70,303.65 L547.71,304.65 L547.73,305.65 L547.74,306.65 L547.76,307.65 L547.76,307.85 L548.11,307.85 L548.11,307.65 L548.13,306.65 L548.14,305.65 L548.16,304.65 L548.17,303.65 L548.18,302.65 L548.20,301.65 L548.21,300.65 L548.22,299.65 L548.23,298.65 L548.24,297.65 L548.25,296.65 L548.26,295.65 L548.26,294.65 L548.27,293.65 L548.27,292.65 L548.28,291.65 L548.28,290.65 L548.29,289.65 L548.29,288.65 L548.29,287.65 L548.30,286.65 L548.31,285.65 L548.31,284.65 L548.32,283.65 L548.33,282.65 L548.34,281.65 L548.36,280.65 L548.38,279.65 L548.40,278.65 L548.42,277.65 L548.44,276.65 L548.47,275.65 L548.51,274.65 L548.57,273.65 L548.64,272.65 L548.73,271.65 L548.83,270.65 L548.96,269.65 L549.16,268.65 L549.43,267.65 L549.72,266.65 L550.07,265.65 L550.47,264.65 L550.83,263.65 L551.17,262.65 L551.51,261.65 L551.86,260.65 L552.25,259.65 L552.71,258.65 L553.20,257.65 L553.70,256.65 L554.20,255.65 L554.67,254.65 L555.11,253.65 L555.54,252.65 L555.99,251.65 L556.49,250.65 L557.03,249.65 L557.59,248.65 L558.19,247.65 L558.82,246.65 L559.47,245.65 L560.15,244.65 L560.89,243.65 L561.66,242.65 L562.48,241.65 L563.31,240.65 L564.16,239.65 L565.01,238.65 L565.86,237.65 L566.73,236.65 L567.62,235.65 L568.53,234.65 L569.48,233.65 L570.46,232.65 L571.54,231.65 L572.68,230.65 L573.84,229.65 L574.98,228.65 L576.06,227.65 L577.05,226.65 L578.04,225.65 L579.03,224.65 L579.97,223.65 L580.80,222.65 L581.48,221.65 L581.96,220.65 L582.39,219.65 L582.78,218.65 L583.09,217.65 L583.27,216.65 L583.30,215.65 L583.19,214.65 L582.97,213.65 L582.67,212.65 L582.34,211.65 L581.98,210.65 L581.51,209.65 L580.92,208.65 L580.23,207.65 L579.46,206.65 L578.65,205.65 L577.80,204.65 L576.80,203.65 L575.66,202.65 L574.45,201.65 L573.22,200.65 L572.03,199.65 L570.94,198.65 L569.90,197.65 L568.88,196.65 L567.88,195.65 L566.89,194.65 L565.93,193.65 L564.98,192.65 L564.04,191.65 L563.12,190.65 L562.22,189.65 L561.33,188.65 L560.46,187.65 L559.61,186.65 L558.75,185.65 L557.88,184.65 L557.04,183.65 L556.24,182.65 L555.53,181.65 L554.90,180.65 L554.35,179.65 L553.84,178.65 L553.36,177.65 L552.92,176.65 L552.49,175.65 L552.06,174.65 L551.64,173.65 L551.23,172.65 L550.85,171.65 L550.50,170.65 L550.21,169.65 L549.96,168.65 L549.73,167.65 L549.52,166.65 L549.32,165.65 L549.15,164.65 L548.98,163.65 L548.83,162.65 L548.69,161.65 L548.57,160.65 L548.48,159.65 L548.41,158.65 L548.34,157.65 L548.29,156.65 L548.24,155.65 L548.20,154.65 L548.16,153.65 L548.13,152.65 L548.10,151.65 L548.07,150.65 L548.05,149.65 L548.04,148.65 L548.02,147.65 L548.00,146.65 L547.99,145.65 L547.97,144.65 L547.96,143.65 L547.95,142.65 L547.94,141.65 L547.94,140.65 L547.93,139.65 Z" fill="#bb2f36" stroke="#3f3f3f" stroke-width="1.65" stroke-linejoin="round"/>
<line x1="547.93" y1="150.70" x2="547.93" y2="282.40" stroke="#3f3f3f" stroke-width="2.0"/>
<line x1="547.93" y1="200.10" x2="547.93" y2="233.00" stroke="#3f3f3f" stroke-width="7.3"/>
<line x1="544.93" y1="216.80" x2="550.93" y2="216.80" stroke="#fff" stroke-width="1.6"/>
<path d="M634.28,110.20 L634.22,111.20 L634.15,112.20 L634.07,113.20 L634.00,114.20 L633.91,115.20 L633.82,116.20 L633.73,117.20 L633.63,118.20 L633.52,119.20 L633.41,120.20 L633.28,121.20 L633.15,122.20 L633.00,123.20 L632.85,124.20 L632.70,125.20 L632.53,126.20 L632.36,127.20 L632.18,128.20 L631.99,129.20 L631.79,130.20 L631.59,131.20 L631.37,132.20 L631.15,133.20 L630.92,134.20 L630.68,135.20 L630.44,136.20 L630.20,137.20 L629.94,138.20 L629.66,139.20 L629.37,140.20 L629.05,141.20 L628.70,142.20 L628.33,143.20 L627.95,144.20 L627.55,145.20 L627.15,146.20 L626.73,147.20 L626.30,148.20 L625.85,149.20 L625.39,150.20 L624.92,151.20 L624.43,152.20 L623.92,153.20 L623.39,154.20 L622.85,155.20 L622.30,156.20 L621.76,157.20 L621.23,158.20 L620.70,159.20 L620.18,160.20 L619.66,161.20 L619.15,162.20 L618.64,163.20 L618.13,164.20 L617.62,165.20 L617.11,166.20 L616.60,167.20 L616.10,168.20 L615.61,169.20 L615.14,170.20 L614.66,171.20 L614.19,172.20 L613.73,173.20 L613.28,174.20 L612.85,175.20 L612.45,176.20 L612.09,177.20 L611.76,178.20 L611.42,179.20 L611.05,180.20 L610.64,181.20 L610.21,182.20 L609.76,183.20 L609.31,184.20 L608.87,185.20 L608.45,186.20 L608.03,187.20 L607.61,188.20 L607.19,189.20 L606.79,190.20 L606.41,191.20 L606.06,192.20 L605.73,193.20 L605.40,194.20 L605.09,195.20 L604.80,196.20 L604.53,197.20 L604.28,198.20 L604.05,199.20 L603.83,200.20 L603.62,201.20 L603.43,202.20 L603.25,203.20 L603.10,204.20 L602.96,205.20 L602.83,206.20 L602.71,207.20 L602.60,208.20 L602.50,209.20 L602.41,210.20 L602.32,211.20 L602.23,212.20 L602.15,213.20 L602.08,214.20 L602.04,215.20 L602.03,216.20 L602.03,217.20 L602.03,218.20 L602.03,219.20 L602.03,220.20 L602.03,221.20 L602.10,222.20 L602.24,223.20 L602.43,224.20 L602.65,225.20 L602.87,226.20 L603.07,227.20 L603.26,228.20 L603.46,229.20 L603.68,230.20 L603.90,231.20 L604.13,232.20 L604.38,233.20 L604.65,234.20 L604.94,235.20 L605.25,236.20 L605.56,237.20 L605.88,238.20 L606.19,239.20 L606.50,240.20 L606.81,241.20 L607.13,242.20 L607.45,243.20 L607.77,244.20 L608.10,245.20 L608.42,246.20 L608.75,247.20 L609.09,248.20 L609.42,249.20 L609.76,250.20 L610.10,251.20 L610.44,252.20 L610.79,253.20 L611.14,254.20 L611.49,255.20 L611.83,256.20 L612.17,257.20 L612.49,258.20 L612.80,259.20 L613.10,260.20 L613.39,261.20 L613.68,262.20 L613.98,263.20 L614.30,264.20 L614.63,265.20 L614.99,266.20 L615.35,267.20 L615.71,268.20 L616.06,269.20 L616.39,270.20 L616.71,271.20 L617.02,272.20 L617.32,273.20 L617.61,274.20 L617.90,275.20 L618.19,276.20 L618.45,277.20 L618.71,278.20 L618.98,279.20 L619.30,280.20 L619.66,281.20 L620.06,282.20 L620.49,283.20 L620.93,284.20 L621.38,285.20 L621.82,286.20 L622.26,287.20 L622.70,288.20 L623.16,289.20 L623.61,290.20 L624.07,291.20 L624.52,292.20 L624.99,293.20 L625.47,294.20 L625.94,295.20 L626.40,296.20 L626.82,297.20 L627.20,298.20 L627.54,299.20 L627.86,300.20 L628.16,301.20 L628.45,302.20 L628.72,303.20 L628.98,304.20 L629.24,305.20 L629.48,306.20 L629.71,307.20 L629.94,308.20 L630.16,309.20 L630.37,310.20 L630.58,311.20 L630.79,312.20 L630.98,313.20 L631.18,314.20 L631.37,315.20 L631.55,316.20 L631.74,317.20 L631.92,318.20 L632.09,319.20 L632.26,320.20 L632.43,321.20 L632.60,322.20 L632.76,323.20 L632.92,324.20 L633.06,325.20 L633.19,326.20 L633.32,327.20 L633.44,328.20 L633.55,329.20 L633.65,330.20 L633.73,331.20 L633.81,332.20 L633.88,333.20 L633.93,334.05 L641.08,334.05 L641.13,333.20 L641.20,332.20 L641.28,331.20 L641.36,330.20 L641.46,329.20 L641.57,328.20 L641.69,327.20 L641.82,326.20 L641.95,325.20 L642.09,324.20 L642.25,323.20 L642.41,322.20 L642.58,321.20 L642.75,320.20 L642.92,319.20 L643.09,318.20 L643.27,317.20 L643.46,316.20 L643.64,315.20 L643.83,314.20 L644.03,313.20 L644.22,312.20 L644.43,311.20 L644.64,310.20 L644.85,309.20 L645.07,308.20 L645.30,307.20 L645.53,306.20 L645.77,305.20 L646.03,304.20 L646.29,303.20 L646.56,302.20 L646.85,301.20 L647.15,300.20 L647.47,299.20 L647.81,298.20 L648.19,297.20 L648.61,296.20 L649.07,295.20 L649.54,294.20 L650.02,293.20 L650.49,292.20 L650.94,291.20 L651.40,290.20 L651.85,289.20 L652.31,288.20 L652.75,287.20 L653.19,286.20 L653.63,285.20 L654.08,284.20 L654.52,283.20 L654.95,282.20 L655.35,281.20 L655.71,280.20 L656.03,279.20 L656.30,278.20 L656.56,277.20 L656.82,276.20 L657.11,275.20 L657.40,274.20 L657.69,273.20 L657.99,272.20 L658.30,271.20 L658.62,270.20 L658.95,269.20 L659.30,268.20 L659.66,267.20 L660.02,266.20 L660.38,265.20 L660.71,264.20 L661.03,263.20 L661.33,262.20 L661.62,261.20 L661.91,260.20 L662.21,259.20 L662.52,258.20 L662.84,257.20 L663.18,256.20 L663.52,255.20 L663.87,254.20 L664.22,253.20 L664.57,252.20 L664.91,251.20 L665.25,250.20 L665.59,249.20 L665.92,248.20 L666.26,247.20 L666.59,246.20 L666.91,245.20 L667.24,244.20 L667.56,243.20 L667.88,242.20 L668.20,241.20 L668.51,240.20 L668.82,239.20 L669.13,238.20 L669.45,237.20 L669.76,236.20 L670.07,235.20 L670.36,234.20 L670.63,233.20 L670.88,232.20 L671.11,231.20 L671.33,230.20 L671.55,229.20 L671.75,228.20 L671.94,227.20 L672.14,226.20 L672.36,225.20 L672.58,224.20 L672.77,223.20 L672.91,222.20 L672.98,221.20 L672.98,220.20 L672.98,219.20 L672.98,218.20 L672.98,217.20 L672.98,216.20 L672.97,215.20 L672.93,214.20 L672.86,213.20 L672.78,212.20 L672.69,211.20 L672.60,210.20 L672.51,209.20 L672.41,208.20 L672.30,207.20 L672.18,206.20 L672.05,205.20 L671.91,204.20 L671.76,203.20 L671.58,202.20 L671.39,201.20 L671.18,200.20 L670.96,199.20 L670.73,198.20 L670.48,197.20 L670.21,196.20 L669.92,195.20 L669.61,194.20 L669.28,193.20 L668.95,192.20 L668.60,191.20 L668.22,190.20 L667.82,189.20 L667.40,188.20 L666.98,187.20 L666.56,186.20 L666.14,185.20 L665.70,184.20 L665.25,183.20 L664.80,182.20 L664.37,181.20 L663.96,180.20 L663.59,179.20 L663.25,178.20 L662.92,177.20 L662.56,176.20 L662.16,175.20 L661.73,174.20 L661.28,173.20 L660.82,172.20 L660.35,171.20 L659.87,170.20 L659.40,169.20 L658.91,168.20 L658.41,167.20 L657.90,166.20 L657.39,165.20 L656.88,164.20 L656.37,163.20 L655.86,162.20 L655.35,161.20 L654.83,160.20 L654.31,159.20 L653.78,158.20 L653.25,157.20 L652.71,156.20 L652.16,155.20 L651.62,154.20 L651.09,153.20 L650.58,152.20 L650.09,151.20 L649.62,150.20 L649.16,149.20 L648.71,148.20 L648.28,147.20 L647.86,146.20 L647.46,145.20 L647.06,144.20 L646.68,143.20 L646.31,142.20 L645.96,141.20 L645.64,140.20 L645.35,139.20 L645.07,138.20 L644.81,137.20 L644.57,136.20 L644.33,135.20 L644.09,134.20 L643.86,133.20 L643.64,132.20 L643.42,131.20 L643.22,130.20 L643.02,129.20 L642.83,128.20 L642.65,127.20 L642.48,126.20 L642.31,125.20 L642.16,124.20 L642.01,123.20 L641.86,122.20 L641.73,121.20 L641.60,120.20 L641.49,119.20 L641.38,118.20 L641.28,117.20 L641.19,116.20 L641.10,115.20 L641.01,114.20 L640.94,113.20 L640.86,112.20 L640.79,111.20 L640.73,110.20 Z" fill="#bb2f36" stroke="#3f3f3f" stroke-width="1.65" stroke-linejoin="round"/>
<line x1="637.50" y1="110.20" x2="637.50" y2="334.05" stroke="#3f3f3f" stroke-width="2.0"/>
<line x1="637.50" y1="184.20" x2="637.50" y2="257.50" stroke="#3f3f3f" stroke-width="7.3"/>
<line x1="634.50" y1="220.30" x2="640.50" y2="220.30" stroke="#fff" stroke-width="1.6"/>
<g stroke="#1a1a1a" stroke-width="1.6" fill="none">
<line x1="55.30" y1="5.30" x2="55.30" y2="608.55"/>
<line x1="54.55" y1="607.80" x2="682.60" y2="607.80"/>
<line x1="49.80" y1="7.12" x2="55.30" y2="7.12"/>
<line x1="49.80" y1="139.96" x2="55.30" y2="139.96"/>
<line x1="49.80" y1="272.80" x2="55.30" y2="272.80"/>
<line x1="49.80" y1="405.64" x2="55.30" y2="405.64"/>
<line x1="49.80" y1="538.48" x2="55.30" y2="538.48"/>
<line x1="100.08" y1="607.80" x2="100.08" y2="613.30"/>
<line x1="189.65" y1="607.80" x2="189.65" y2="613.30"/>
<line x1="279.22" y1="607.80" x2="279.22" y2="613.30"/>
<line x1="368.80" y1="607.80" x2="368.80" y2="613.30"/>
<line x1="458.36" y1="607.80" x2="458.36" y2="613.30"/>
<line x1="547.93" y1="607.80" x2="547.93" y2="613.30"/>
<line x1="637.50" y1="607.80" x2="637.50" y2="613.30"/>
</g>
<text x="44.00" y="12.62" font-size="14.7" text-anchor="end">4</text>
<text x="44.00" y="145.46" font-size="14.7" text-anchor="end">2</text>
<text x="44.00" y="278.30" font-size="14.7" text-anchor="end">0</text>
<text x="44.00" y="411.14" font-size="14.7" text-anchor="end">−2</text>
<text x="44.00" y="543.98" font-size="14.7" text-anchor="end">−4</text>
<text x="100.08" y="629.60" font-size="14.7" text-anchor="middle">Normal</text>
<text x="100.08" y="645.05" font-size="14.7" text-anchor="middle">developmental</text>
<text x="100.08" y="660.50" font-size="14.7" text-anchor="middle">control</text>
<text x="189.65" y="629.60" font-size="14.7" text-anchor="middle">Delayed</text>
<text x="189.65" y="645.05" font-size="14.7" text-anchor="middle">puberty</text>
<text x="279.22" y="629.60" font-size="14.7" text-anchor="middle">Growth</text>
<text x="279.22" y="645.05" font-size="14.7" text-anchor="middle">hormone</text>
<text x="279.22" y="660.50" font-size="14.7" text-anchor="middle">deficiency</text>
<text x="368.80" y="629.60" font-size="14.7" text-anchor="middle">Developmental</text>
<text x="368.80" y="645.05" font-size="14.7" text-anchor="middle">delay</text>
<text x="458.36" y="629.60" font-size="14.7" text-anchor="middle">Precocious</text>
<text x="458.36" y="645.05" font-size="14.7" text-anchor="middle">puberty</text>
<text x="547.93" y="629.60" font-size="14.7" text-anchor="middle">Gigantism</text>
<text x="637.50" y="629.60" font-size="14.7" text-anchor="middle">Overgrowth</text>
<text x="637.50" y="645.05" font-size="14.7" text-anchor="middle">syndromes</text>
<text x="190.45" y="21.60" font-size="15.6" font-weight="bold" letter-spacing="1.6" text-anchor="middle" style="stroke-width:0.2px">***</text>
<text x="280.02" y="21.60" font-size="15.6" font-weight="bold" letter-spacing="1.6" text-anchor="middle" style="stroke-width:0.2px">***</text>
<text x="369.60" y="21.60" font-size="15.6" font-weight="bold" letter-spacing="1.6" text-anchor="middle" style="stroke-width:0.2px">***</text>
<text x="459.16" y="21.60" font-size="15.6" font-weight="bold" letter-spacing="1.6" text-anchor="middle" style="stroke-width:0.2px">***</text>
<text x="548.73" y="21.60" font-size="15.6" font-weight="bold" letter-spacing="1.6" text-anchor="middle" style="stroke-width:0.2px">***</text>
<text x="638.30" y="21.60" font-size="15.6" font-weight="bold" letter-spacing="1.6" text-anchor="middle" style="stroke-width:0.2px">***</text>
<text transform="translate(16.70,301.60) rotate(-90)" font-size="19.7" text-anchor="middle">Z-scored Age difference</text>
</svg></body></html>
